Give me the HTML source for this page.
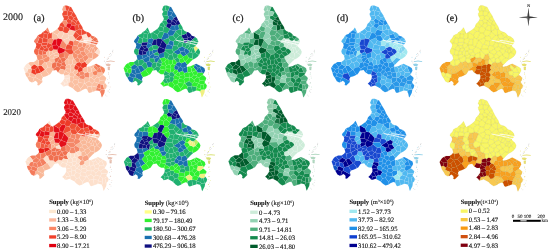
<!DOCTYPE html>
<html><head><meta charset="utf-8"><style>
html,body{margin:0;padding:0;background:#fff;}
body{width:550px;height:252px;overflow:hidden;}
svg{display:block;}
text{font-family:"Liberation Serif","Times New Roman",serif;fill:#111;text-rendering:geometricPrecision;}
.lt{font-size:6.5px;stroke:#111;stroke-width:0.1px;}
.lv{font-size:6.7px;stroke:#111;stroke-width:0.12px;}
.sb{font-size:5px;stroke:#111;stroke-width:0.08px;}
.yr{font-size:10px;fill:#1a1a1a;stroke:#1a1a1a;stroke-width:0.12px;}
.pl{font-size:9.8px;fill:#1a1a1a;stroke:#1a1a1a;stroke-width:0.25px;}
</style></head><body>
<svg width="550" height="252" viewBox="0 0 550 252">
<defs>
<path id="ol" d="M370.7,6.5 L371.9,5.4 L374.3,5.4 L376.7,6.5 L378.5,7.1 L380.8,11.3 L383.8,16.1 L385.5,20.0 L387.4,23.3 L389.8,26.9 L390.4,29.3 L392.1,31.1 L395.7,32.3 L397.5,33.5 L399.3,35.8 L401.7,36.4 L404.0,38.2 L405.2,40.0 L405.8,42.1 L404.6,43.9 L402.9,45.7 L404.6,47.5 L406.4,49.3 L407.6,51.7 L407.0,54.0 L405.2,56.4 L402.9,58.2 L400.5,59.4 L398.1,61.5 L395.7,63.9 L393.9,65.7 L394.5,66.9 L398.1,66.3 L400.5,65.1 L403.6,63.8 L407.1,65.4 L410.1,67.1 L411.9,68.3 L412.5,70.7 L411.3,73.1 L410.1,74.9 L411.9,76.1 L413.7,77.9 L413.1,80.2 L411.9,82.0 L413.1,83.8 L414.3,85.6 L413.7,88.0 L412.4,89.3 L411.8,92.9 L410.6,95.2 L409.4,97.6 L408.8,96.4 L408.2,93.5 L407.0,91.1 L404.0,90.5 L400.5,91.7 L396.9,92.9 L395.7,92.3 L394.5,89.3 L392.7,88.7 L389.8,89.9 L387.4,91.5 L385.0,92.3 L382.6,90.8 L381.4,89.6 L379.6,87.9 L377.3,86.7 L374.9,85.5 L373.1,86.1 L370.7,86.7 L369.5,84.9 L367.7,83.7 L369.5,81.9 L371.3,79.5 L371.9,76.5 L371.3,74.2 L368.3,74.2 L365.4,72.4 L363.6,70.0 L360.0,70.6 L358.8,72.4 L357.6,74.2 L355.2,75.4 L352.9,76.5 L350.5,77.1 L349.3,78.9 L349.9,81.9 L348.1,83.7 L346.3,85.5 L344.5,84.9 L345.1,83.7 L344.5,81.9 L342.7,80.7 L341.0,81.9 L339.2,82.5 L336.8,81.3 L335.1,78.2 L333.4,75.8 L332.8,74.0 L332.2,71.7 L331.6,69.9 L331.0,68.1 L332.2,66.3 L333.4,64.5 L335.1,63.3 L337.5,62.1 L341.1,62.1 L343.5,60.4 L344.7,58.6 L343.7,55.0 L341.9,53.6 L341.3,51.2 L341.9,49.4 L343.1,47.6 L343.7,45.2 L343.1,43.5 L341.3,41.7 L341.9,39.9 L343.7,38.1 L344.9,35.7 L346.7,34.5 L348.5,33.9 L350.2,32.1 L352.0,31.0 L353.5,29.5 L354.8,27.5 L355.6,28.8 L356.5,31.0 L357.7,33.5 L360.7,31.6 L362.5,30.5 L364.9,28.7 L366.5,26.8 L367.4,24.0 L369.5,22.0 L370.7,20.2 L371.3,18.5 L370.1,16.1 L369.5,13.7 L370.7,11.9 L369.5,9.5 Z"/>
<path id="v0" d="M384.8,84.5 L382.0,85.2 L380.1,88.3 L381.4,89.6 L382.6,90.8 L385.0,92.3 L387.4,91.5 L388.4,90.9 L388.1,88.8 Z"/>
<path id="v1" d="M396.6,51.0 L398.6,47.5 L397.2,46.2 L394.6,48.9 Z"/>
<path id="v2" d="M356.8,32.8 L357.3,32.7 L356.5,31.0 L355.6,28.8 L354.8,27.5 L353.5,29.5 L353.0,30.0 Z"/>
<path id="v3" d="M354.0,45.7 L349.2,45.2 L351.6,48.7 L354.4,47.6 Z"/>
<path id="v4" d="M376.7,54.5 L372.3,50.7 L371.3,52.2 L371.6,57.5 L373.8,59.0 L374.8,58.9 Z"/>
<path id="v5" d="M380.9,51.9 L380.9,52.3 L385.4,54.7 L387.6,53.4 L388.0,51.8 L386.0,48.8 Z"/>
<path id="v6" d="M373.4,26.2 L372.6,26.3 L371.0,27.6 L370.3,31.4 L371.5,32.8 L374.9,33.2 L377.1,29.6 L376.8,28.7 Z"/>
<path id="v7" d="M372.2,83.3 L375.4,82.9 L373.2,78.9 L371.6,78.2 L371.3,79.5 L370.2,81.0 Z"/>
<path id="v8" d="M385.6,71.8 L382.6,75.0 L386.6,77.2 L387.6,75.5 L386.6,72.2 Z"/>
<path id="v9" d="M372.2,83.3 L370.8,86.7 L373.1,86.1 L374.9,85.5 L375.9,86.0 L375.7,83.0 L375.4,82.9 Z"/>
<path id="v10" d="M362.5,62.0 L361.6,58.8 L360.9,58.3 L357.3,58.0 L356.6,61.1 L359.6,63.3 Z"/>
<path id="v11" d="M394.8,38.5 L395.3,40.2 L397.7,41.6 L399.9,39.8 L399.9,39.5 L397.7,37.0 L395.3,37.6 Z"/>
<path id="v12" d="M384.3,62.8 L381.7,59.0 L381.2,58.9 L379.9,59.9 L380.1,63.8 L382.7,65.0 L383.2,64.8 Z"/>
<path id="v13" d="M367.2,31.4 L370.3,31.4 L371.0,27.6 L366.8,25.8 L366.5,26.8 L364.9,28.7 L364.8,28.7 Z"/>
<path id="v14" d="M389.0,35.3 L388.8,29.6 L386.7,29.2 L382.7,31.1 L382.7,31.7 L386.8,35.4 L389.0,35.3 Z"/>
<path id="v15" d="M401.2,67.5 L403.6,70.4 L403.8,70.4 L405.8,68.0 L401.9,64.5 L401.8,64.6 Z"/>
<path id="v16" d="M411.6,89.6 L408.6,89.8 L407.3,91.8 L408.2,93.5 L408.8,96.4 L409.4,97.6 L410.6,95.2 L411.8,92.9 L412.3,89.9 Z"/>
<path id="v17" d="M381.1,17.9 L378.6,15.4 L375.7,16.2 L375.6,18.6 L379.3,20.7 L380.8,19.1 Z"/>
<path id="v18" d="M379.3,20.7 L375.6,18.6 L373.8,20.6 L375.0,23.2 L378.2,23.2 L379.3,20.8 Z"/>
<path id="v19" d="M405.8,68.0 L407.4,67.4 L408.3,66.1 L407.1,65.4 L403.6,63.8 L401.9,64.5 Z"/>
<path id="v20" d="M380.5,35.6 L376.4,36.0 L375.9,37.8 L377.2,40.5 L380.9,41.4 L383.2,39.3 Z"/>
<path id="v21" d="M371.6,57.5 L371.3,52.2 L366.5,54.1 L366.1,56.0 L366.3,56.7 L367.3,58.2 L367.4,58.3 Z"/>
<path id="v22" d="M364.6,49.8 L364.8,51.7 L366.5,54.1 L371.3,52.2 L372.3,50.7 L372.4,49.3 L366.9,46.9 L366.5,47.0 Z"/>
<path id="v23" d="M381.5,67.9 L378.4,68.0 L377.7,69.1 L378.2,71.9 L380.4,72.3 L382.6,69.8 Z"/>
<path id="v24" d="M359.4,51.0 L360.6,53.6 L361.0,53.8 L364.8,51.7 L364.6,49.8 L360.7,49.4 Z"/>
<path id="v25" d="M398.9,86.2 L395.1,86.8 L394.2,89.2 L394.5,89.3 L395.7,92.3 L396.9,92.9 L399.8,91.9 Z"/>
<path id="v26" d="M399.7,58.7 L400.4,53.2 L398.9,52.4 L396.9,52.0 L394.1,54.7 L396.3,57.8 Z"/>
<path id="v27" d="M344.8,42.8 L348.8,43.9 L349.8,42.5 L349.8,38.5 L346.8,37.4 Z"/>
<path id="v28" d="M344.8,42.8 L346.8,37.4 L345.3,35.5 L344.9,35.7 L343.7,38.1 L341.9,39.9 L341.3,41.7 L342.9,43.3 Z"/>
<path id="v29" d="M396.3,57.8 L394.1,54.7 L394.0,54.7 L390.6,56.5 L390.2,57.7 L392.3,61.8 L392.5,61.8 Z"/>
<path id="v30" d="M385.6,71.8 L386.6,72.2 L390.1,70.9 L390.3,68.2 L388.2,66.8 L386.4,67.2 L384.8,70.1 Z"/>
<path id="v31" d="M361.2,39.4 L359.3,38.1 L355.3,39.2 L355.1,42.3 L355.3,42.7 L359.2,44.3 Z"/>
<path id="v32" d="M386.1,48.1 L384.7,46.0 L381.0,45.4 L380.2,46.0 L379.4,49.0 L380.9,51.9 L386.0,48.8 Z"/>
<path id="v33" d="M382.7,65.0 L380.1,63.8 L377.7,65.1 L378.4,68.0 L381.5,67.9 Z"/>
<path id="v34" d="M373.7,65.4 L372.1,61.8 L369.5,62.3 L368.6,63.8 L368.7,65.3 L373.1,66.3 Z"/>
<path id="v35" d="M385.6,20.1 L385.5,20.0 L383.9,16.4 L381.1,17.9 L380.8,19.1 L384.0,21.1 Z"/>
<path id="v36" d="M392.5,77.3 L391.3,79.3 L392.1,83.3 L392.1,83.3 L392.4,83.4 L396.5,81.0 L396.8,77.7 Z"/>
<path id="v37" d="M406.2,77.7 L407.1,80.4 L413.1,80.1 L413.7,77.9 L411.9,76.1 L410.2,74.9 Z"/>
<path id="v38" d="M402.5,52.4 L400.4,53.2 L399.7,58.7 L400.4,59.5 L400.5,59.4 L402.9,58.2 L405.2,56.4 L406.3,55.0 Z"/>
<path id="v39" d="M345.9,60.2 L350.4,59.3 L350.5,59.1 L349.4,55.2 L345.7,54.6 L343.9,55.6 L344.7,58.6 L344.3,59.3 Z"/>
<path id="v40" d="M343.7,74.0 L348.0,72.9 L348.1,72.8 L345.3,66.7 L342.3,69.6 Z"/>
<path id="v41" d="M398.7,68.6 L401.2,67.5 L401.8,64.6 L400.5,65.1 L398.1,66.3 L396.3,66.6 Z"/>
<path id="v42" d="M379.3,20.8 L378.2,23.2 L379.1,25.3 L382.2,25.7 L383.4,24.7 L383.2,23.6 Z"/>
<path id="v43" d="M375.5,10.7 L380.1,12.1 L381.0,11.7 L380.8,11.3 L378.5,7.1 L377.2,6.7 Z"/>
<path id="v44" d="M364.8,35.1 L359.8,32.2 L359.3,32.5 L359.3,38.1 L361.2,39.4 L364.2,39.2 L365.7,38.2 Z"/>
<path id="v45" d="M338.5,66.9 L341.7,64.2 L341.3,62.0 L341.1,62.1 L337.5,62.1 L335.4,63.2 Z"/>
<path id="v46" d="M397.7,37.0 L398.8,35.1 L397.5,33.5 L395.7,32.3 L394.5,31.9 L393.5,33.7 L395.3,37.6 Z"/>
<path id="v47" d="M406.0,83.2 L406.0,83.2 L407.1,80.4 L406.2,77.7 L404.7,77.0 L401.5,79.8 L401.6,81.7 Z"/>
<path id="v48" d="M341.4,78.1 L340.1,82.2 L341.0,81.9 L342.7,80.7 L344.5,81.9 L345.1,83.7 L344.5,84.9 L346.3,85.5 L348.1,83.7 L349.9,81.9 L349.8,81.3 L342.5,77.2 Z"/>
<path id="v49" d="M380.1,63.8 L379.9,59.9 L376.3,60.0 L376.4,64.5 L377.7,65.1 Z"/>
<path id="v50" d="M383.9,16.4 L383.8,16.1 L381.0,11.7 L380.1,12.1 L378.6,15.4 L381.1,17.9 Z"/>
<path id="v51" d="M388.2,66.8 L388.6,63.2 L386.8,61.9 L384.3,62.8 L383.2,64.8 L386.4,67.2 Z"/>
<path id="v52" d="M396.8,77.7 L396.5,81.0 L399.5,83.4 L401.6,81.7 L401.5,79.8 L398.7,77.5 L396.8,77.7 Z"/>
<path id="v53" d="M353.0,69.8 L356.5,74.7 L357.6,74.2 L358.8,72.4 L360.0,70.6 L361.0,70.4 L360.8,68.9 L358.9,67.1 L355.2,67.3 Z"/>
<path id="v54" d="M399.2,85.9 L398.9,86.2 L399.8,91.9 L400.5,91.7 L403.2,90.8 L404.0,87.5 L403.8,87.0 Z"/>
<path id="v55" d="M386.7,29.2 L385.6,25.0 L383.4,24.7 L382.2,25.7 L382.6,31.1 L382.7,31.1 Z"/>
<path id="v56" d="M367.7,69.1 L372.3,70.1 L373.2,68.7 L373.1,66.3 L368.7,65.3 L367.3,67.3 Z"/>
<path id="v57" d="M339.0,68.9 L342.3,69.6 L345.3,66.7 L345.4,66.4 L341.7,64.2 L338.5,66.9 L338.5,68.3 Z"/>
<path id="v58" d="M401.7,41.4 L405.3,40.2 L405.2,40.0 L404.0,38.2 L402.5,37.0 L399.9,39.5 L399.9,39.8 Z"/>
<path id="v59" d="M361.8,55.2 L366.1,56.0 L366.5,54.1 L364.8,51.7 L361.0,53.8 Z"/>
<path id="v60" d="M357.2,51.0 L359.4,51.0 L360.7,49.4 L359.6,45.5 L355.6,48.5 L356.0,50.2 Z"/>
<path id="v61" d="M338.5,72.8 L337.0,73.7 L336.6,76.2 L341.4,78.1 L342.5,77.2 L343.0,74.9 Z"/>
<path id="v62" d="M382.7,31.1 L382.6,31.1 L377.1,29.6 L374.9,33.2 L376.4,36.0 L380.5,35.6 L382.7,31.7 Z"/>
<path id="v63" d="M334.6,77.5 L335.1,78.2 L336.8,81.3 L339.2,82.5 L340.1,82.2 L341.4,78.1 L336.6,76.2 Z"/>
<path id="v64" d="M384.0,21.1 L380.8,19.1 L379.3,20.7 L379.3,20.8 L383.2,23.6 Z"/>
<path id="v65" d="M338.5,72.8 L343.0,74.9 L343.7,74.0 L342.3,69.6 L339.0,68.9 Z"/>
<path id="v66" d="M399.5,83.4 L396.5,81.0 L392.4,83.4 L395.1,86.8 L398.9,86.2 L399.2,85.9 Z"/>
<path id="v67" d="M389.9,37.9 L389.0,35.3 L386.8,35.4 L383.2,39.3 L386.4,41.6 Z"/>
<path id="v68" d="M350.5,59.1 L355.7,56.2 L353.7,54.2 L349.6,55.0 L349.4,55.2 Z"/>
<path id="v69" d="M395.1,86.8 L392.4,83.4 L392.1,83.3 L388.1,88.8 L388.4,90.9 L389.8,89.9 L392.7,88.7 L394.2,89.2 Z"/>
<path id="v70" d="M407.1,80.4 L406.0,83.2 L408.3,84.6 L410.5,84.7 L412.7,83.2 L411.9,82.0 L413.1,80.2 L413.1,80.1 Z"/>
<path id="v71" d="M397.9,43.7 L397.7,41.6 L395.3,40.2 L393.3,43.2 L394.1,44.4 L396.9,45.1 Z"/>
<path id="v72" d="M383.4,24.7 L385.6,25.0 L387.7,23.7 L387.4,23.3 L385.6,20.1 L384.0,21.1 L383.2,23.6 Z"/>
<path id="v73" d="M396.3,72.7 L395.1,72.1 L392.0,73.1 L391.5,74.8 L392.5,77.3 L396.8,77.7 L396.8,77.7 Z"/>
<path id="v74" d="M392.2,48.1 L394.1,44.4 L393.3,43.2 L391.3,42.7 L389.8,43.5 L389.7,46.5 Z"/>
<path id="v75" d="M364.1,45.1 L364.2,39.2 L361.2,39.4 L359.2,44.3 L359.7,45.2 Z"/>
<path id="v76" d="M370.1,40.2 L374.1,44.7 L375.4,44.2 L377.2,40.5 L375.9,37.8 Z"/>
<path id="v77" d="M372.5,70.8 L376.7,73.3 L378.2,71.9 L377.7,69.1 L373.2,68.7 L372.3,70.1 Z"/>
<path id="v78" d="M342.5,77.2 L349.8,81.3 L349.3,78.9 L350.3,77.4 L348.0,72.9 L343.7,74.0 L343.0,74.9 Z"/>
<path id="v79" d="M386.7,78.5 L385.7,80.2 L385.9,82.5 L392.1,83.3 L391.3,79.3 Z"/>
<path id="v80" d="M375.4,44.2 L374.1,44.7 L372.5,49.2 L379.4,49.0 L380.2,46.0 Z"/>
<path id="v81" d="M373.4,10.6 L372.3,5.4 L371.9,5.4 L370.7,6.5 L369.5,9.5 L370.4,11.3 Z"/>
<path id="v82" d="M354.7,38.5 L355.3,39.2 L359.3,38.1 L359.3,32.5 L357.7,33.5 L357.3,32.7 L356.8,32.8 L355.3,34.0 Z"/>
<path id="v83" d="M388.0,51.8 L391.4,50.9 L392.4,48.6 L392.2,48.1 L389.7,46.5 L386.1,48.1 L386.0,48.8 Z"/>
<path id="v84" d="M408.6,89.8 L408.0,88.9 L404.0,87.5 L403.2,90.8 L404.0,90.5 L407.0,91.1 L407.3,91.8 Z"/>
<path id="v85" d="M349.8,38.5 L349.8,42.5 L355.1,42.3 L355.3,39.2 L354.7,38.5 L351.2,37.8 Z"/>
<path id="v86" d="M402.6,52.3 L405.6,48.5 L404.6,47.5 L403.1,46.0 L402.8,45.9 L400.9,47.6 Z"/>
<path id="v87" d="M348.8,65.5 L346.5,65.6 L345.4,66.4 L345.3,66.7 L348.1,72.8 L352.4,69.8 Z"/>
<path id="v88" d="M353.7,54.2 L353.6,51.9 L350.9,50.7 L350.3,51.0 L349.6,55.0 Z"/>
<path id="v89" d="M356.3,56.4 L357.2,51.0 L356.0,50.2 L353.6,51.9 L353.7,54.2 L355.7,56.2 Z"/>
<path id="v90" d="M385.0,57.5 L385.4,54.7 L380.9,52.3 L379.6,53.9 L381.2,58.9 L381.7,59.0 Z"/>
<path id="v91" d="M349.6,55.0 L350.3,51.0 L346.4,49.5 L345.7,54.6 L349.4,55.2 Z"/>
<path id="v92" d="M350.3,51.0 L350.9,50.7 L351.6,48.7 L349.2,45.2 L349.1,45.2 L346.3,49.4 L346.4,49.5 Z"/>
<path id="v93" d="M409.6,72.5 L405.0,72.4 L404.0,75.6 L404.7,77.0 L406.2,77.7 L410.2,74.9 L410.1,74.9 L411.1,73.4 Z"/>
<path id="v94" d="M398.7,77.5 L400.9,75.0 L399.7,72.1 L398.9,71.8 L396.3,72.7 L396.8,77.7 Z"/>
<path id="v95" d="M392.1,83.3 L392.1,83.3 L385.9,82.5 L384.8,84.5 L388.1,88.8 Z"/>
<path id="v96" d="M390.1,70.9 L386.6,72.2 L387.6,75.5 L391.5,74.8 L392.0,73.1 Z"/>
<path id="v97" d="M346.3,49.4 L342.7,48.2 L341.9,49.4 L341.3,51.2 L341.9,53.6 L343.7,55.0 L343.9,55.6 L345.7,54.6 L346.4,49.5 Z"/>
<path id="v98" d="M379.8,82.1 L381.5,79.1 L380.8,77.1 L377.6,76.8 L377.0,77.8 L377.6,81.9 Z"/>
<path id="v99" d="M392.5,61.8 L392.3,61.8 L388.6,63.2 L388.2,66.8 L390.3,68.2 L394.3,66.5 L393.9,65.7 L394.8,64.8 Z"/>
<path id="v100" d="M367.7,69.1 L367.3,67.3 L364.2,66.4 L360.8,68.9 L361.0,70.4 L363.6,70.0 L365.4,72.4 L365.7,72.6 Z"/>
<path id="v101" d="M402.5,37.0 L401.7,36.4 L399.3,35.8 L398.8,35.1 L397.7,37.0 L399.9,39.5 Z"/>
<path id="v102" d="M388.8,29.6 L390.3,28.7 L389.8,26.9 L387.7,23.7 L385.6,25.0 L386.7,29.2 Z"/>
<path id="v103" d="M377.6,76.8 L376.5,74.6 L371.7,75.8 L371.9,76.5 L371.6,78.2 L373.2,78.9 L377.0,77.8 Z"/>
<path id="v104" d="M335.3,69.3 L334.5,72.0 L337.0,73.7 L338.5,72.8 L339.0,68.9 L338.5,68.3 Z"/>
<path id="v105" d="M366.9,46.9 L372.4,49.3 L372.5,49.2 L374.1,44.7 L370.1,40.2 L369.8,40.1 Z"/>
<path id="v106" d="M387.6,53.4 L390.6,56.5 L394.0,54.7 L391.4,50.9 L388.0,51.8 Z"/>
<path id="v107" d="M379.9,59.9 L381.2,58.9 L379.6,53.9 L376.7,54.5 L374.8,58.9 L376.3,60.0 Z"/>
<path id="v108" d="M368.6,63.8 L369.5,62.3 L367.4,58.3 L367.3,58.2 L364.2,62.2 Z"/>
<path id="v109" d="M378.6,15.4 L380.1,12.1 L375.5,10.7 L374.7,11.1 L374.7,15.4 L375.7,16.2 Z"/>
<path id="v110" d="M376.8,28.7 L377.1,29.6 L382.6,31.1 L382.2,25.7 L379.1,25.3 Z"/>
<path id="v111" d="M346.3,49.4 L349.1,45.2 L348.8,43.9 L344.8,42.8 L342.9,43.3 L343.1,43.5 L343.7,45.2 L343.1,47.6 L342.7,48.2 Z"/>
<path id="v112" d="M394.6,66.9 L394.5,66.9 L394.3,66.5 L390.3,68.2 L390.1,70.9 L392.0,73.1 L395.1,72.1 Z"/>
<path id="v113" d="M375.7,83.0 L377.6,81.9 L377.0,77.8 L373.2,78.9 L375.4,82.9 Z"/>
<path id="v114" d="M371.6,57.5 L367.4,58.3 L369.5,62.3 L372.1,61.8 L373.8,59.0 Z"/>
<path id="v115" d="M399.7,72.1 L403.6,70.4 L401.2,67.5 L398.7,68.6 L398.9,71.8 Z"/>
<path id="v116" d="M383.2,39.3 L383.2,39.3 L380.9,41.4 L381.0,45.4 L384.7,46.0 L386.6,42.2 L386.4,41.6 Z"/>
<path id="v117" d="M377.2,40.5 L375.4,44.2 L380.2,46.0 L381.0,45.4 L380.9,41.4 Z"/>
<path id="v118" d="M393.3,43.2 L395.3,40.2 L394.8,38.5 L391.0,38.7 L391.3,42.7 Z"/>
<path id="v119" d="M369.8,40.1 L370.1,40.2 L375.9,37.8 L376.4,36.0 L374.9,33.2 L371.5,32.8 L368.6,38.9 Z"/>
<path id="v120" d="M401.3,43.9 L401.7,41.4 L399.9,39.8 L397.7,41.6 L397.9,43.7 Z"/>
<path id="v121" d="M401.5,79.8 L404.7,77.0 L404.0,75.6 L400.9,75.0 L398.7,77.5 Z"/>
<path id="v122" d="M372.5,70.8 L372.3,70.1 L367.7,69.1 L365.7,72.6 L368.3,74.2 L371.0,74.2 Z"/>
<path id="v123" d="M376.4,64.5 L373.7,65.4 L373.1,66.3 L373.2,68.7 L377.7,69.1 L378.4,68.0 L377.7,65.1 Z"/>
<path id="v124" d="M392.3,61.8 L390.2,57.7 L386.8,58.9 L386.8,61.9 L388.6,63.2 Z"/>
<path id="v125" d="M355.3,34.0 L356.8,32.8 L353.0,30.0 L352.0,31.0 L350.2,32.1 L351.4,33.6 Z"/>
<path id="v126" d="M359.6,45.5 L360.7,49.4 L364.6,49.8 L366.5,47.0 L364.1,45.1 L359.7,45.2 Z"/>
<path id="v127" d="M367.3,58.2 L366.3,56.7 L361.6,58.8 L362.5,62.0 L363.6,62.4 L364.2,62.2 Z"/>
<path id="v128" d="M408.3,84.6 L408.0,88.9 L408.6,89.8 L411.6,89.6 L410.5,84.7 Z"/>
<path id="v129" d="M402.6,52.3 L402.5,52.4 L406.3,55.0 L407.0,54.0 L407.6,51.7 L406.4,49.3 L405.6,48.5 Z"/>
<path id="v130" d="M373.8,20.6 L370.7,20.3 L369.6,21.8 L372.6,26.3 L373.4,26.2 L375.0,23.2 Z"/>
<path id="v131" d="M398.9,52.4 L400.4,53.2 L402.5,52.4 L402.6,52.3 L400.9,47.6 L399.9,47.8 Z"/>
<path id="v132" d="M394.6,48.9 L397.2,46.2 L396.9,45.1 L394.1,44.4 L392.2,48.1 L392.4,48.6 Z"/>
<path id="v133" d="M361.6,58.8 L366.3,56.7 L366.1,56.0 L361.8,55.2 L360.9,58.3 Z"/>
<path id="v134" d="M346.8,37.4 L349.8,38.5 L351.2,37.8 L351.4,33.6 L350.2,32.1 L350.2,32.1 L348.5,33.9 L346.7,34.5 L345.3,35.5 Z"/>
<path id="v135" d="M387.6,75.5 L386.6,77.2 L386.7,78.5 L391.3,79.3 L392.5,77.3 L391.5,74.8 Z"/>
<path id="v136" d="M334.5,72.0 L332.5,72.8 L332.8,74.0 L333.4,75.8 L334.6,77.5 L336.6,76.2 L337.0,73.7 Z"/>
<path id="v137" d="M398.6,47.5 L399.9,47.8 L400.9,47.6 L402.8,45.9 L401.3,43.9 L397.9,43.7 L396.9,45.1 L397.2,46.2 Z"/>
<path id="v138" d="M335.3,69.3 L338.5,68.3 L338.5,66.9 L335.4,63.2 L335.1,63.3 L333.4,64.5 L332.2,66.3 L331.8,66.9 Z"/>
<path id="v139" d="M353.6,62.6 L351.8,62.1 L348.8,65.5 L352.4,69.8 L353.0,69.8 L355.2,67.3 Z"/>
<path id="v140" d="M360.8,68.9 L364.2,66.4 L363.6,62.4 L362.5,62.0 L359.6,63.3 L358.9,67.1 Z"/>
<path id="v141" d="M355.6,48.5 L354.4,47.6 L351.6,48.7 L350.9,50.7 L353.6,51.9 L356.0,50.2 Z"/>
<path id="v142" d="M376.3,60.0 L374.8,58.9 L373.8,59.0 L372.1,61.8 L373.7,65.4 L376.4,64.5 Z"/>
<path id="v143" d="M351.2,37.8 L354.7,38.5 L355.3,34.0 L351.4,33.6 Z"/>
<path id="v144" d="M394.0,54.7 L394.1,54.7 L396.9,52.0 L396.6,51.0 L394.6,48.9 L392.4,48.6 L391.4,50.9 Z"/>
<path id="v145" d="M407.4,67.4 L409.6,72.5 L411.1,73.4 L411.3,73.1 L412.5,70.7 L411.9,68.3 L410.1,67.1 L408.3,66.1 Z"/>
<path id="v146" d="M382.1,75.1 L380.8,77.1 L381.5,79.1 L385.7,80.2 L386.7,78.5 L386.6,77.2 L382.6,75.0 Z"/>
<path id="v147" d="M391.0,38.7 L394.8,38.5 L395.3,37.6 L393.5,33.7 L389.0,35.3 L389.0,35.3 L389.9,37.9 Z"/>
<path id="v148" d="M355.3,42.7 L355.1,42.3 L349.8,42.5 L348.8,43.9 L349.1,45.2 L349.2,45.2 L354.0,45.7 Z"/>
<path id="v149" d="M373.8,20.6 L375.6,18.6 L375.7,16.2 L374.7,15.4 L370.0,15.9 L370.1,16.1 L371.3,18.5 L370.7,20.2 L370.7,20.3 Z"/>
<path id="v150" d="M368.7,65.3 L368.6,63.8 L364.2,62.2 L363.6,62.4 L364.2,66.4 L367.3,67.3 Z"/>
<path id="v151" d="M346.5,65.6 L348.8,65.5 L351.8,62.1 L350.4,59.3 L345.9,60.2 Z"/>
<path id="v152" d="M366.5,47.0 L366.9,46.9 L369.8,40.1 L368.6,38.9 L365.7,38.2 L364.2,39.2 L364.1,45.1 Z"/>
<path id="v153" d="M404.0,87.5 L408.0,88.9 L408.3,84.6 L406.0,83.2 L406.0,83.2 L403.8,87.0 Z"/>
<path id="v154" d="M386.8,58.9 L385.0,57.5 L381.7,59.0 L384.3,62.8 L386.8,61.9 Z"/>
<path id="v155" d="M411.6,89.6 L412.3,89.9 L412.4,89.3 L413.7,88.0 L414.3,85.6 L413.1,83.8 L412.7,83.2 L410.5,84.7 Z"/>
<path id="v156" d="M386.4,67.2 L383.2,64.8 L382.7,65.0 L381.5,67.9 L382.6,69.8 L384.8,70.1 Z"/>
<path id="v157" d="M386.8,58.9 L390.2,57.7 L390.6,56.5 L387.6,53.4 L385.4,54.7 L385.0,57.5 Z"/>
<path id="v158" d="M356.3,56.4 L356.5,56.5 L360.6,53.6 L359.4,51.0 L357.2,51.0 Z"/>
<path id="v159" d="M334.5,72.0 L335.3,69.3 L331.8,66.9 L331.0,68.1 L331.6,69.9 L332.2,71.7 L332.5,72.8 Z"/>
<path id="v160" d="M389.7,46.5 L389.8,43.5 L386.6,42.2 L384.7,46.0 L386.1,48.1 Z"/>
<path id="v161" d="M400.9,75.0 L404.0,75.6 L405.0,72.4 L403.8,70.4 L403.6,70.4 L399.7,72.1 Z"/>
<path id="v162" d="M359.2,44.3 L355.3,42.7 L354.0,45.7 L354.4,47.6 L355.6,48.5 L359.6,45.5 L359.7,45.2 Z"/>
<path id="v163" d="M405.0,72.4 L409.6,72.5 L407.4,67.4 L405.8,68.0 L403.8,70.4 Z"/>
<path id="v164" d="M403.1,46.0 L402.9,45.7 L404.6,43.9 L405.8,42.1 L405.3,40.2 L401.7,41.4 L401.3,43.9 L402.8,45.9 Z"/>
<path id="v165" d="M395.1,72.1 L396.3,72.7 L398.9,71.8 L398.7,68.6 L396.3,66.6 L394.6,66.9 Z"/>
<path id="v166" d="M373.4,10.6 L374.7,11.1 L375.5,10.7 L377.2,6.7 L376.7,6.5 L374.3,5.4 L372.3,5.4 Z"/>
<path id="v167" d="M375.9,86.0 L377.3,86.7 L379.6,87.9 L380.1,88.3 L382.0,85.2 L379.8,82.1 L377.6,81.9 L375.7,83.0 Z"/>
<path id="v168" d="M399.7,58.7 L396.3,57.8 L392.5,61.8 L394.8,64.8 L395.7,63.9 L398.1,61.5 L400.4,59.5 Z"/>
<path id="v169" d="M358.9,67.1 L359.6,63.3 L356.6,61.1 L353.6,62.6 L355.2,67.3 Z"/>
<path id="v170" d="M348.1,72.8 L348.0,72.9 L350.3,77.4 L350.5,77.1 L352.9,76.5 L355.2,75.4 L356.5,74.7 L353.0,69.8 L352.4,69.8 Z"/>
<path id="v171" d="M382.6,69.8 L380.4,72.3 L382.1,75.1 L382.6,75.0 L385.6,71.8 L384.8,70.1 Z"/>
<path id="v172" d="M386.6,42.2 L389.8,43.5 L391.3,42.7 L391.0,38.7 L389.9,37.9 L386.4,41.6 Z"/>
<path id="v173" d="M394.5,31.9 L392.1,31.1 L390.4,29.3 L390.3,28.7 L388.8,29.6 L389.0,35.3 L393.5,33.7 Z"/>
<path id="v174" d="M372.2,83.3 L370.2,81.0 L369.5,81.9 L367.7,83.7 L369.5,84.9 L370.7,86.7 L370.8,86.7 Z"/>
<path id="v175" d="M368.6,38.9 L371.5,32.8 L370.3,31.4 L367.2,31.4 L364.8,35.1 L365.7,38.2 Z"/>
<path id="v176" d="M369.6,21.8 L369.5,22.0 L367.4,24.0 L366.8,25.8 L371.0,27.6 L372.6,26.3 Z"/>
<path id="v177" d="M350.5,59.1 L350.4,59.3 L351.8,62.1 L353.6,62.6 L356.6,61.1 L357.3,58.0 L356.5,56.5 L356.3,56.4 L355.7,56.2 Z"/>
<path id="v178" d="M374.7,15.4 L374.7,11.1 L373.4,10.6 L370.4,11.3 L370.7,11.9 L369.5,13.7 L370.0,15.9 Z"/>
<path id="v179" d="M406.0,83.2 L401.6,81.7 L399.5,83.4 L399.2,85.9 L403.8,87.0 Z"/>
<path id="v180" d="M398.9,52.4 L399.9,47.8 L398.6,47.5 L396.6,51.0 L396.9,52.0 Z"/>
<path id="v181" d="M386.8,35.4 L382.7,31.7 L380.5,35.6 L383.2,39.3 L383.2,39.3 Z"/>
<path id="v182" d="M382.1,75.1 L380.4,72.3 L378.2,71.9 L376.7,73.3 L376.5,74.6 L377.6,76.8 L380.8,77.1 Z"/>
<path id="v183" d="M379.8,82.1 L382.0,85.2 L384.8,84.5 L385.9,82.5 L385.7,80.2 L381.5,79.1 Z"/>
<path id="v184" d="M378.2,23.2 L375.0,23.2 L373.4,26.2 L376.8,28.7 L379.1,25.3 Z"/>
<path id="v185" d="M379.4,49.0 L372.5,49.2 L372.4,49.3 L372.3,50.7 L376.7,54.5 L379.6,53.9 L380.9,52.3 L380.9,51.9 Z"/>
<path id="v186" d="M341.7,64.2 L345.4,66.4 L346.5,65.6 L345.9,60.2 L344.3,59.3 L343.5,60.4 L341.3,62.0 Z"/>
<path id="v187" d="M371.0,74.2 L371.3,74.2 L371.7,75.8 L376.5,74.6 L376.7,73.3 L372.5,70.8 Z"/>
<path id="v188" d="M364.8,35.1 L367.2,31.4 L364.8,28.7 L362.5,30.5 L360.7,31.6 L359.8,32.2 Z"/>
<path id="v189" d="M357.3,58.0 L360.9,58.3 L361.8,55.2 L361.0,53.8 L360.6,53.6 L356.5,56.5 Z"/>
<path id="vb" fill="none" stroke-width="0.3" d="M384.8,84.5 L382.0,85.2 L380.1,88.3 L381.4,89.6 L382.6,90.8 L385.0,92.3 L387.4,91.5 L388.4,90.9 L388.1,88.8 Z M396.6,51.0 L398.6,47.5 L397.2,46.2 L394.6,48.9 Z M356.8,32.8 L357.3,32.7 L356.5,31.0 L355.6,28.8 L354.8,27.5 L353.5,29.5 L353.0,30.0 Z M354.0,45.7 L349.2,45.2 L351.6,48.7 L354.4,47.6 Z M376.7,54.5 L372.3,50.7 L371.3,52.2 L371.6,57.5 L373.8,59.0 L374.8,58.9 Z M380.9,51.9 L380.9,52.3 L385.4,54.7 L387.6,53.4 L388.0,51.8 L386.0,48.8 Z M373.4,26.2 L372.6,26.3 L371.0,27.6 L370.3,31.4 L371.5,32.8 L374.9,33.2 L377.1,29.6 L376.8,28.7 Z M372.2,83.3 L375.4,82.9 L373.2,78.9 L371.6,78.2 L371.3,79.5 L370.2,81.0 Z M385.6,71.8 L382.6,75.0 L386.6,77.2 L387.6,75.5 L386.6,72.2 Z M372.2,83.3 L370.8,86.7 L373.1,86.1 L374.9,85.5 L375.9,86.0 L375.7,83.0 L375.4,82.9 Z M362.5,62.0 L361.6,58.8 L360.9,58.3 L357.3,58.0 L356.6,61.1 L359.6,63.3 Z M394.8,38.5 L395.3,40.2 L397.7,41.6 L399.9,39.8 L399.9,39.5 L397.7,37.0 L395.3,37.6 Z M384.3,62.8 L381.7,59.0 L381.2,58.9 L379.9,59.9 L380.1,63.8 L382.7,65.0 L383.2,64.8 Z M367.2,31.4 L370.3,31.4 L371.0,27.6 L366.8,25.8 L366.5,26.8 L364.9,28.7 L364.8,28.7 Z M389.0,35.3 L388.8,29.6 L386.7,29.2 L382.7,31.1 L382.7,31.7 L386.8,35.4 L389.0,35.3 Z M401.2,67.5 L403.6,70.4 L403.8,70.4 L405.8,68.0 L401.9,64.5 L401.8,64.6 Z M411.6,89.6 L408.6,89.8 L407.3,91.8 L408.2,93.5 L408.8,96.4 L409.4,97.6 L410.6,95.2 L411.8,92.9 L412.3,89.9 Z M381.1,17.9 L378.6,15.4 L375.7,16.2 L375.6,18.6 L379.3,20.7 L380.8,19.1 Z M379.3,20.7 L375.6,18.6 L373.8,20.6 L375.0,23.2 L378.2,23.2 L379.3,20.8 Z M405.8,68.0 L407.4,67.4 L408.3,66.1 L407.1,65.4 L403.6,63.8 L401.9,64.5 Z M380.5,35.6 L376.4,36.0 L375.9,37.8 L377.2,40.5 L380.9,41.4 L383.2,39.3 Z M371.6,57.5 L371.3,52.2 L366.5,54.1 L366.1,56.0 L366.3,56.7 L367.3,58.2 L367.4,58.3 Z M364.6,49.8 L364.8,51.7 L366.5,54.1 L371.3,52.2 L372.3,50.7 L372.4,49.3 L366.9,46.9 L366.5,47.0 Z M381.5,67.9 L378.4,68.0 L377.7,69.1 L378.2,71.9 L380.4,72.3 L382.6,69.8 Z M359.4,51.0 L360.6,53.6 L361.0,53.8 L364.8,51.7 L364.6,49.8 L360.7,49.4 Z M398.9,86.2 L395.1,86.8 L394.2,89.2 L394.5,89.3 L395.7,92.3 L396.9,92.9 L399.8,91.9 Z M399.7,58.7 L400.4,53.2 L398.9,52.4 L396.9,52.0 L394.1,54.7 L396.3,57.8 Z M344.8,42.8 L348.8,43.9 L349.8,42.5 L349.8,38.5 L346.8,37.4 Z M344.8,42.8 L346.8,37.4 L345.3,35.5 L344.9,35.7 L343.7,38.1 L341.9,39.9 L341.3,41.7 L342.9,43.3 Z M396.3,57.8 L394.1,54.7 L394.0,54.7 L390.6,56.5 L390.2,57.7 L392.3,61.8 L392.5,61.8 Z M385.6,71.8 L386.6,72.2 L390.1,70.9 L390.3,68.2 L388.2,66.8 L386.4,67.2 L384.8,70.1 Z M361.2,39.4 L359.3,38.1 L355.3,39.2 L355.1,42.3 L355.3,42.7 L359.2,44.3 Z M386.1,48.1 L384.7,46.0 L381.0,45.4 L380.2,46.0 L379.4,49.0 L380.9,51.9 L386.0,48.8 Z M382.7,65.0 L380.1,63.8 L377.7,65.1 L378.4,68.0 L381.5,67.9 Z M373.7,65.4 L372.1,61.8 L369.5,62.3 L368.6,63.8 L368.7,65.3 L373.1,66.3 Z M385.6,20.1 L385.5,20.0 L383.9,16.4 L381.1,17.9 L380.8,19.1 L384.0,21.1 Z M392.5,77.3 L391.3,79.3 L392.1,83.3 L392.1,83.3 L392.4,83.4 L396.5,81.0 L396.8,77.7 Z M406.2,77.7 L407.1,80.4 L413.1,80.1 L413.7,77.9 L411.9,76.1 L410.2,74.9 Z M402.5,52.4 L400.4,53.2 L399.7,58.7 L400.4,59.5 L400.5,59.4 L402.9,58.2 L405.2,56.4 L406.3,55.0 Z M345.9,60.2 L350.4,59.3 L350.5,59.1 L349.4,55.2 L345.7,54.6 L343.9,55.6 L344.7,58.6 L344.3,59.3 Z M343.7,74.0 L348.0,72.9 L348.1,72.8 L345.3,66.7 L342.3,69.6 Z M398.7,68.6 L401.2,67.5 L401.8,64.6 L400.5,65.1 L398.1,66.3 L396.3,66.6 Z M379.3,20.8 L378.2,23.2 L379.1,25.3 L382.2,25.7 L383.4,24.7 L383.2,23.6 Z M375.5,10.7 L380.1,12.1 L381.0,11.7 L380.8,11.3 L378.5,7.1 L377.2,6.7 Z M364.8,35.1 L359.8,32.2 L359.3,32.5 L359.3,38.1 L361.2,39.4 L364.2,39.2 L365.7,38.2 Z M338.5,66.9 L341.7,64.2 L341.3,62.0 L341.1,62.1 L337.5,62.1 L335.4,63.2 Z M397.7,37.0 L398.8,35.1 L397.5,33.5 L395.7,32.3 L394.5,31.9 L393.5,33.7 L395.3,37.6 Z M406.0,83.2 L406.0,83.2 L407.1,80.4 L406.2,77.7 L404.7,77.0 L401.5,79.8 L401.6,81.7 Z M341.4,78.1 L340.1,82.2 L341.0,81.9 L342.7,80.7 L344.5,81.9 L345.1,83.7 L344.5,84.9 L346.3,85.5 L348.1,83.7 L349.9,81.9 L349.8,81.3 L342.5,77.2 Z M380.1,63.8 L379.9,59.9 L376.3,60.0 L376.4,64.5 L377.7,65.1 Z M383.9,16.4 L383.8,16.1 L381.0,11.7 L380.1,12.1 L378.6,15.4 L381.1,17.9 Z M388.2,66.8 L388.6,63.2 L386.8,61.9 L384.3,62.8 L383.2,64.8 L386.4,67.2 Z M396.8,77.7 L396.5,81.0 L399.5,83.4 L401.6,81.7 L401.5,79.8 L398.7,77.5 L396.8,77.7 Z M353.0,69.8 L356.5,74.7 L357.6,74.2 L358.8,72.4 L360.0,70.6 L361.0,70.4 L360.8,68.9 L358.9,67.1 L355.2,67.3 Z M399.2,85.9 L398.9,86.2 L399.8,91.9 L400.5,91.7 L403.2,90.8 L404.0,87.5 L403.8,87.0 Z M386.7,29.2 L385.6,25.0 L383.4,24.7 L382.2,25.7 L382.6,31.1 L382.7,31.1 Z M367.7,69.1 L372.3,70.1 L373.2,68.7 L373.1,66.3 L368.7,65.3 L367.3,67.3 Z M339.0,68.9 L342.3,69.6 L345.3,66.7 L345.4,66.4 L341.7,64.2 L338.5,66.9 L338.5,68.3 Z M401.7,41.4 L405.3,40.2 L405.2,40.0 L404.0,38.2 L402.5,37.0 L399.9,39.5 L399.9,39.8 Z M361.8,55.2 L366.1,56.0 L366.5,54.1 L364.8,51.7 L361.0,53.8 Z M357.2,51.0 L359.4,51.0 L360.7,49.4 L359.6,45.5 L355.6,48.5 L356.0,50.2 Z M338.5,72.8 L337.0,73.7 L336.6,76.2 L341.4,78.1 L342.5,77.2 L343.0,74.9 Z M382.7,31.1 L382.6,31.1 L377.1,29.6 L374.9,33.2 L376.4,36.0 L380.5,35.6 L382.7,31.7 Z M334.6,77.5 L335.1,78.2 L336.8,81.3 L339.2,82.5 L340.1,82.2 L341.4,78.1 L336.6,76.2 Z M384.0,21.1 L380.8,19.1 L379.3,20.7 L379.3,20.8 L383.2,23.6 Z M338.5,72.8 L343.0,74.9 L343.7,74.0 L342.3,69.6 L339.0,68.9 Z M399.5,83.4 L396.5,81.0 L392.4,83.4 L395.1,86.8 L398.9,86.2 L399.2,85.9 Z M389.9,37.9 L389.0,35.3 L386.8,35.4 L383.2,39.3 L386.4,41.6 Z M350.5,59.1 L355.7,56.2 L353.7,54.2 L349.6,55.0 L349.4,55.2 Z M395.1,86.8 L392.4,83.4 L392.1,83.3 L388.1,88.8 L388.4,90.9 L389.8,89.9 L392.7,88.7 L394.2,89.2 Z M407.1,80.4 L406.0,83.2 L408.3,84.6 L410.5,84.7 L412.7,83.2 L411.9,82.0 L413.1,80.2 L413.1,80.1 Z M397.9,43.7 L397.7,41.6 L395.3,40.2 L393.3,43.2 L394.1,44.4 L396.9,45.1 Z M383.4,24.7 L385.6,25.0 L387.7,23.7 L387.4,23.3 L385.6,20.1 L384.0,21.1 L383.2,23.6 Z M396.3,72.7 L395.1,72.1 L392.0,73.1 L391.5,74.8 L392.5,77.3 L396.8,77.7 L396.8,77.7 Z M392.2,48.1 L394.1,44.4 L393.3,43.2 L391.3,42.7 L389.8,43.5 L389.7,46.5 Z M364.1,45.1 L364.2,39.2 L361.2,39.4 L359.2,44.3 L359.7,45.2 Z M370.1,40.2 L374.1,44.7 L375.4,44.2 L377.2,40.5 L375.9,37.8 Z M372.5,70.8 L376.7,73.3 L378.2,71.9 L377.7,69.1 L373.2,68.7 L372.3,70.1 Z M342.5,77.2 L349.8,81.3 L349.3,78.9 L350.3,77.4 L348.0,72.9 L343.7,74.0 L343.0,74.9 Z M386.7,78.5 L385.7,80.2 L385.9,82.5 L392.1,83.3 L391.3,79.3 Z M375.4,44.2 L374.1,44.7 L372.5,49.2 L379.4,49.0 L380.2,46.0 Z M373.4,10.6 L372.3,5.4 L371.9,5.4 L370.7,6.5 L369.5,9.5 L370.4,11.3 Z M354.7,38.5 L355.3,39.2 L359.3,38.1 L359.3,32.5 L357.7,33.5 L357.3,32.7 L356.8,32.8 L355.3,34.0 Z M388.0,51.8 L391.4,50.9 L392.4,48.6 L392.2,48.1 L389.7,46.5 L386.1,48.1 L386.0,48.8 Z M408.6,89.8 L408.0,88.9 L404.0,87.5 L403.2,90.8 L404.0,90.5 L407.0,91.1 L407.3,91.8 Z M349.8,38.5 L349.8,42.5 L355.1,42.3 L355.3,39.2 L354.7,38.5 L351.2,37.8 Z M402.6,52.3 L405.6,48.5 L404.6,47.5 L403.1,46.0 L402.8,45.9 L400.9,47.6 Z M348.8,65.5 L346.5,65.6 L345.4,66.4 L345.3,66.7 L348.1,72.8 L352.4,69.8 Z M353.7,54.2 L353.6,51.9 L350.9,50.7 L350.3,51.0 L349.6,55.0 Z M356.3,56.4 L357.2,51.0 L356.0,50.2 L353.6,51.9 L353.7,54.2 L355.7,56.2 Z M385.0,57.5 L385.4,54.7 L380.9,52.3 L379.6,53.9 L381.2,58.9 L381.7,59.0 Z M349.6,55.0 L350.3,51.0 L346.4,49.5 L345.7,54.6 L349.4,55.2 Z M350.3,51.0 L350.9,50.7 L351.6,48.7 L349.2,45.2 L349.1,45.2 L346.3,49.4 L346.4,49.5 Z M409.6,72.5 L405.0,72.4 L404.0,75.6 L404.7,77.0 L406.2,77.7 L410.2,74.9 L410.1,74.9 L411.1,73.4 Z M398.7,77.5 L400.9,75.0 L399.7,72.1 L398.9,71.8 L396.3,72.7 L396.8,77.7 Z M392.1,83.3 L392.1,83.3 L385.9,82.5 L384.8,84.5 L388.1,88.8 Z M390.1,70.9 L386.6,72.2 L387.6,75.5 L391.5,74.8 L392.0,73.1 Z M346.3,49.4 L342.7,48.2 L341.9,49.4 L341.3,51.2 L341.9,53.6 L343.7,55.0 L343.9,55.6 L345.7,54.6 L346.4,49.5 Z M379.8,82.1 L381.5,79.1 L380.8,77.1 L377.6,76.8 L377.0,77.8 L377.6,81.9 Z M392.5,61.8 L392.3,61.8 L388.6,63.2 L388.2,66.8 L390.3,68.2 L394.3,66.5 L393.9,65.7 L394.8,64.8 Z M367.7,69.1 L367.3,67.3 L364.2,66.4 L360.8,68.9 L361.0,70.4 L363.6,70.0 L365.4,72.4 L365.7,72.6 Z M402.5,37.0 L401.7,36.4 L399.3,35.8 L398.8,35.1 L397.7,37.0 L399.9,39.5 Z M388.8,29.6 L390.3,28.7 L389.8,26.9 L387.7,23.7 L385.6,25.0 L386.7,29.2 Z M377.6,76.8 L376.5,74.6 L371.7,75.8 L371.9,76.5 L371.6,78.2 L373.2,78.9 L377.0,77.8 Z M335.3,69.3 L334.5,72.0 L337.0,73.7 L338.5,72.8 L339.0,68.9 L338.5,68.3 Z M366.9,46.9 L372.4,49.3 L372.5,49.2 L374.1,44.7 L370.1,40.2 L369.8,40.1 Z M387.6,53.4 L390.6,56.5 L394.0,54.7 L391.4,50.9 L388.0,51.8 Z M379.9,59.9 L381.2,58.9 L379.6,53.9 L376.7,54.5 L374.8,58.9 L376.3,60.0 Z M368.6,63.8 L369.5,62.3 L367.4,58.3 L367.3,58.2 L364.2,62.2 Z M378.6,15.4 L380.1,12.1 L375.5,10.7 L374.7,11.1 L374.7,15.4 L375.7,16.2 Z M376.8,28.7 L377.1,29.6 L382.6,31.1 L382.2,25.7 L379.1,25.3 Z M346.3,49.4 L349.1,45.2 L348.8,43.9 L344.8,42.8 L342.9,43.3 L343.1,43.5 L343.7,45.2 L343.1,47.6 L342.7,48.2 Z M394.6,66.9 L394.5,66.9 L394.3,66.5 L390.3,68.2 L390.1,70.9 L392.0,73.1 L395.1,72.1 Z M375.7,83.0 L377.6,81.9 L377.0,77.8 L373.2,78.9 L375.4,82.9 Z M371.6,57.5 L367.4,58.3 L369.5,62.3 L372.1,61.8 L373.8,59.0 Z M399.7,72.1 L403.6,70.4 L401.2,67.5 L398.7,68.6 L398.9,71.8 Z M383.2,39.3 L383.2,39.3 L380.9,41.4 L381.0,45.4 L384.7,46.0 L386.6,42.2 L386.4,41.6 Z M377.2,40.5 L375.4,44.2 L380.2,46.0 L381.0,45.4 L380.9,41.4 Z M393.3,43.2 L395.3,40.2 L394.8,38.5 L391.0,38.7 L391.3,42.7 Z M369.8,40.1 L370.1,40.2 L375.9,37.8 L376.4,36.0 L374.9,33.2 L371.5,32.8 L368.6,38.9 Z M401.3,43.9 L401.7,41.4 L399.9,39.8 L397.7,41.6 L397.9,43.7 Z M401.5,79.8 L404.7,77.0 L404.0,75.6 L400.9,75.0 L398.7,77.5 Z M372.5,70.8 L372.3,70.1 L367.7,69.1 L365.7,72.6 L368.3,74.2 L371.0,74.2 Z M376.4,64.5 L373.7,65.4 L373.1,66.3 L373.2,68.7 L377.7,69.1 L378.4,68.0 L377.7,65.1 Z M392.3,61.8 L390.2,57.7 L386.8,58.9 L386.8,61.9 L388.6,63.2 Z M355.3,34.0 L356.8,32.8 L353.0,30.0 L352.0,31.0 L350.2,32.1 L351.4,33.6 Z M359.6,45.5 L360.7,49.4 L364.6,49.8 L366.5,47.0 L364.1,45.1 L359.7,45.2 Z M367.3,58.2 L366.3,56.7 L361.6,58.8 L362.5,62.0 L363.6,62.4 L364.2,62.2 Z M408.3,84.6 L408.0,88.9 L408.6,89.8 L411.6,89.6 L410.5,84.7 Z M402.6,52.3 L402.5,52.4 L406.3,55.0 L407.0,54.0 L407.6,51.7 L406.4,49.3 L405.6,48.5 Z M373.8,20.6 L370.7,20.3 L369.6,21.8 L372.6,26.3 L373.4,26.2 L375.0,23.2 Z M398.9,52.4 L400.4,53.2 L402.5,52.4 L402.6,52.3 L400.9,47.6 L399.9,47.8 Z M394.6,48.9 L397.2,46.2 L396.9,45.1 L394.1,44.4 L392.2,48.1 L392.4,48.6 Z M361.6,58.8 L366.3,56.7 L366.1,56.0 L361.8,55.2 L360.9,58.3 Z M346.8,37.4 L349.8,38.5 L351.2,37.8 L351.4,33.6 L350.2,32.1 L350.2,32.1 L348.5,33.9 L346.7,34.5 L345.3,35.5 Z M387.6,75.5 L386.6,77.2 L386.7,78.5 L391.3,79.3 L392.5,77.3 L391.5,74.8 Z M334.5,72.0 L332.5,72.8 L332.8,74.0 L333.4,75.8 L334.6,77.5 L336.6,76.2 L337.0,73.7 Z M398.6,47.5 L399.9,47.8 L400.9,47.6 L402.8,45.9 L401.3,43.9 L397.9,43.7 L396.9,45.1 L397.2,46.2 Z M335.3,69.3 L338.5,68.3 L338.5,66.9 L335.4,63.2 L335.1,63.3 L333.4,64.5 L332.2,66.3 L331.8,66.9 Z M353.6,62.6 L351.8,62.1 L348.8,65.5 L352.4,69.8 L353.0,69.8 L355.2,67.3 Z M360.8,68.9 L364.2,66.4 L363.6,62.4 L362.5,62.0 L359.6,63.3 L358.9,67.1 Z M355.6,48.5 L354.4,47.6 L351.6,48.7 L350.9,50.7 L353.6,51.9 L356.0,50.2 Z M376.3,60.0 L374.8,58.9 L373.8,59.0 L372.1,61.8 L373.7,65.4 L376.4,64.5 Z M351.2,37.8 L354.7,38.5 L355.3,34.0 L351.4,33.6 Z M394.0,54.7 L394.1,54.7 L396.9,52.0 L396.6,51.0 L394.6,48.9 L392.4,48.6 L391.4,50.9 Z M407.4,67.4 L409.6,72.5 L411.1,73.4 L411.3,73.1 L412.5,70.7 L411.9,68.3 L410.1,67.1 L408.3,66.1 Z M382.1,75.1 L380.8,77.1 L381.5,79.1 L385.7,80.2 L386.7,78.5 L386.6,77.2 L382.6,75.0 Z M391.0,38.7 L394.8,38.5 L395.3,37.6 L393.5,33.7 L389.0,35.3 L389.0,35.3 L389.9,37.9 Z M355.3,42.7 L355.1,42.3 L349.8,42.5 L348.8,43.9 L349.1,45.2 L349.2,45.2 L354.0,45.7 Z M373.8,20.6 L375.6,18.6 L375.7,16.2 L374.7,15.4 L370.0,15.9 L370.1,16.1 L371.3,18.5 L370.7,20.2 L370.7,20.3 Z M368.7,65.3 L368.6,63.8 L364.2,62.2 L363.6,62.4 L364.2,66.4 L367.3,67.3 Z M346.5,65.6 L348.8,65.5 L351.8,62.1 L350.4,59.3 L345.9,60.2 Z M366.5,47.0 L366.9,46.9 L369.8,40.1 L368.6,38.9 L365.7,38.2 L364.2,39.2 L364.1,45.1 Z M404.0,87.5 L408.0,88.9 L408.3,84.6 L406.0,83.2 L406.0,83.2 L403.8,87.0 Z M386.8,58.9 L385.0,57.5 L381.7,59.0 L384.3,62.8 L386.8,61.9 Z M411.6,89.6 L412.3,89.9 L412.4,89.3 L413.7,88.0 L414.3,85.6 L413.1,83.8 L412.7,83.2 L410.5,84.7 Z M386.4,67.2 L383.2,64.8 L382.7,65.0 L381.5,67.9 L382.6,69.8 L384.8,70.1 Z M386.8,58.9 L390.2,57.7 L390.6,56.5 L387.6,53.4 L385.4,54.7 L385.0,57.5 Z M356.3,56.4 L356.5,56.5 L360.6,53.6 L359.4,51.0 L357.2,51.0 Z M334.5,72.0 L335.3,69.3 L331.8,66.9 L331.0,68.1 L331.6,69.9 L332.2,71.7 L332.5,72.8 Z M389.7,46.5 L389.8,43.5 L386.6,42.2 L384.7,46.0 L386.1,48.1 Z M400.9,75.0 L404.0,75.6 L405.0,72.4 L403.8,70.4 L403.6,70.4 L399.7,72.1 Z M359.2,44.3 L355.3,42.7 L354.0,45.7 L354.4,47.6 L355.6,48.5 L359.6,45.5 L359.7,45.2 Z M405.0,72.4 L409.6,72.5 L407.4,67.4 L405.8,68.0 L403.8,70.4 Z M403.1,46.0 L402.9,45.7 L404.6,43.9 L405.8,42.1 L405.3,40.2 L401.7,41.4 L401.3,43.9 L402.8,45.9 Z M395.1,72.1 L396.3,72.7 L398.9,71.8 L398.7,68.6 L396.3,66.6 L394.6,66.9 Z M373.4,10.6 L374.7,11.1 L375.5,10.7 L377.2,6.7 L376.7,6.5 L374.3,5.4 L372.3,5.4 Z M375.9,86.0 L377.3,86.7 L379.6,87.9 L380.1,88.3 L382.0,85.2 L379.8,82.1 L377.6,81.9 L375.7,83.0 Z M399.7,58.7 L396.3,57.8 L392.5,61.8 L394.8,64.8 L395.7,63.9 L398.1,61.5 L400.4,59.5 Z M358.9,67.1 L359.6,63.3 L356.6,61.1 L353.6,62.6 L355.2,67.3 Z M348.1,72.8 L348.0,72.9 L350.3,77.4 L350.5,77.1 L352.9,76.5 L355.2,75.4 L356.5,74.7 L353.0,69.8 L352.4,69.8 Z M382.6,69.8 L380.4,72.3 L382.1,75.1 L382.6,75.0 L385.6,71.8 L384.8,70.1 Z M386.6,42.2 L389.8,43.5 L391.3,42.7 L391.0,38.7 L389.9,37.9 L386.4,41.6 Z M394.5,31.9 L392.1,31.1 L390.4,29.3 L390.3,28.7 L388.8,29.6 L389.0,35.3 L393.5,33.7 Z M372.2,83.3 L370.2,81.0 L369.5,81.9 L367.7,83.7 L369.5,84.9 L370.7,86.7 L370.8,86.7 Z M368.6,38.9 L371.5,32.8 L370.3,31.4 L367.2,31.4 L364.8,35.1 L365.7,38.2 Z M369.6,21.8 L369.5,22.0 L367.4,24.0 L366.8,25.8 L371.0,27.6 L372.6,26.3 Z M350.5,59.1 L350.4,59.3 L351.8,62.1 L353.6,62.6 L356.6,61.1 L357.3,58.0 L356.5,56.5 L356.3,56.4 L355.7,56.2 Z M374.7,15.4 L374.7,11.1 L373.4,10.6 L370.4,11.3 L370.7,11.9 L369.5,13.7 L370.0,15.9 Z M406.0,83.2 L401.6,81.7 L399.5,83.4 L399.2,85.9 L403.8,87.0 Z M398.9,52.4 L399.9,47.8 L398.6,47.5 L396.6,51.0 L396.9,52.0 Z M386.8,35.4 L382.7,31.7 L380.5,35.6 L383.2,39.3 L383.2,39.3 Z M382.1,75.1 L380.4,72.3 L378.2,71.9 L376.7,73.3 L376.5,74.6 L377.6,76.8 L380.8,77.1 Z M379.8,82.1 L382.0,85.2 L384.8,84.5 L385.9,82.5 L385.7,80.2 L381.5,79.1 Z M378.2,23.2 L375.0,23.2 L373.4,26.2 L376.8,28.7 L379.1,25.3 Z M379.4,49.0 L372.5,49.2 L372.4,49.3 L372.3,50.7 L376.7,54.5 L379.6,53.9 L380.9,52.3 L380.9,51.9 Z M341.7,64.2 L345.4,66.4 L346.5,65.6 L345.9,60.2 L344.3,59.3 L343.5,60.4 L341.3,62.0 Z M371.0,74.2 L371.3,74.2 L371.7,75.8 L376.5,74.6 L376.7,73.3 L372.5,70.8 Z M364.8,35.1 L367.2,31.4 L364.8,28.7 L362.5,30.5 L360.7,31.6 L359.8,32.2 Z M357.3,58.0 L360.9,58.3 L361.8,55.2 L361.0,53.8 L360.6,53.6 L356.5,56.5 Z"/>
<g id="isl">
<circle cx="416.7" cy="54.4" r="0.45"/><circle cx="420.3" cy="52.8" r="0.4"/><circle cx="412" cy="57.2" r="0.45"/>
<circle cx="415.5" cy="58" r="0.5"/><circle cx="411.6" cy="61.1" r="0.45"/>
<path d="M414,61.2 L418,60.6 L422.3,61.2 L422,62 L418,61.6 L414,62 Z"/>
<path d="M413,64 L416,63.6 L418.3,64.4 L417,66.3 L414,66 Z"/>
<path d="M415,67 L417.5,66.8 L417,70.3 L415.2,70 Z"/>
<circle cx="416" cy="74" r="0.5"/><circle cx="417" cy="78" r="0.4"/><circle cx="416" cy="83" r="0.5"/>
<circle cx="417.5" cy="87" r="0.4"/><circle cx="415.5" cy="91" r="0.5"/><circle cx="413" cy="95" r="0.4"/>
</g>
<g id="spk" fill="#a8a8a8" opacity="0.8"><circle cx="420.4" cy="50.1" r="0.35"/><circle cx="420.0" cy="51.2" r="0.35"/><circle cx="419.9" cy="51.1" r="0.35"/><circle cx="417.8" cy="53.7" r="0.35"/><circle cx="417.7" cy="53.5" r="0.35"/><circle cx="418.7" cy="54.9" r="0.35"/><circle cx="417.7" cy="56.0" r="0.35"/><circle cx="416.5" cy="56.3" r="0.35"/><circle cx="415.8" cy="58.7" r="0.35"/><circle cx="414.8" cy="59.5" r="0.35"/><circle cx="414.5" cy="59.1" r="0.35"/><circle cx="414.0" cy="61.2" r="0.35"/><circle cx="412.2" cy="61.1" r="0.35"/><circle cx="412.9" cy="62.9" r="0.35"/><circle cx="416.2" cy="66.0" r="0.35"/><circle cx="416.6" cy="69.3" r="0.35"/><circle cx="416.1" cy="72.7" r="0.35"/><circle cx="416.8" cy="76.0" r="0.35"/><circle cx="415.2" cy="79.3" r="0.35"/><circle cx="416.4" cy="82.7" r="0.35"/><circle cx="415.3" cy="86.0" r="0.35"/><circle cx="416.8" cy="89.3" r="0.35"/><circle cx="416.6" cy="92.7" r="0.35"/><circle cx="414.3" cy="96.0" r="0.35"/></g>
<path id="riv" d="M391,40.4 L397,41 L404,42.5 L407,43.2 M383,40.2 L392,42 L399,43.6 L406,45.5" fill="none" stroke="#fff" stroke-width="0.8"/>
</defs>
<g transform="translate(-307.4,0)">
<use href="#v0" fill="#fbc0a2"/>
<use href="#v1" fill="#f8a888"/>
<use href="#v2" fill="#f48868"/>
<use href="#v3" fill="#ef4a33"/>
<use href="#v4" fill="#f48868"/>
<use href="#v5" fill="#f6906e"/>
<use href="#v6" fill="#ef4a33"/>
<use href="#v7" fill="#fde2d2"/>
<use href="#v8" fill="#f48868"/>
<use href="#v9" fill="#fde2d2"/>
<use href="#v10" fill="#fbc0a2"/>
<use href="#v11" fill="#fde0d0"/>
<use href="#v12" fill="#fbc0a2"/>
<use href="#v13" fill="#ef4a33"/>
<use href="#v14" fill="#ef4a33"/>
<use href="#v15" fill="#f5855f"/>
<use href="#v16" fill="#f38060"/>
<use href="#v17" fill="#ef4a33"/>
<use href="#v18" fill="#ef4a33"/>
<use href="#v19" fill="#f07050"/>
<use href="#v20" fill="#fbd0b8"/>
<use href="#v21" fill="#f07050"/>
<use href="#v22" fill="#e4081a"/>
<use href="#v23" fill="#fbc0a2"/>
<use href="#v24" fill="#fbc0a2"/>
<use href="#v25" fill="#fbc0a2"/>
<use href="#v26" fill="#f8a888"/>
<use href="#v27" fill="#ef4a33"/>
<use href="#v28" fill="#f47b62"/>
<use href="#v29" fill="#f6906e"/>
<use href="#v30" fill="#ee3a26"/>
<use href="#v31" fill="#f48868"/>
<use href="#v32" fill="#f6906e"/>
<use href="#v33" fill="#fbc0a2"/>
<use href="#v34" fill="#f07050"/>
<use href="#v35" fill="#ef4a33"/>
<use href="#v36" fill="#fbc0a2"/>
<use href="#v37" fill="#fbc0a2"/>
<use href="#v38" fill="#f8a888"/>
<use href="#v39" fill="#f6906e"/>
<use href="#v40" fill="#ee3a25"/>
<use href="#v41" fill="#fbc0a2"/>
<use href="#v42" fill="#ef4a33"/>
<use href="#v43" fill="#ef4a33"/>
<use href="#v44" fill="#fbc0a2"/>
<use href="#v45" fill="#fbc0a2"/>
<use href="#v46" fill="#ef4a33"/>
<use href="#v47" fill="#fbc0a2"/>
<use href="#v48" fill="#fbc0a2"/>
<use href="#v49" fill="#fbc0a2"/>
<use href="#v50" fill="#ef4a33"/>
<use href="#v51" fill="#ee3a26"/>
<use href="#v52" fill="#fbc0a2"/>
<use href="#v53" fill="#fbc0a2"/>
<use href="#v54" fill="#fbc0a2"/>
<use href="#v55" fill="#ef4a33"/>
<use href="#v56" fill="#f07050"/>
<use href="#v57" fill="#ee3a25"/>
<use href="#v58" fill="#f07050"/>
<use href="#v59" fill="#fbc0a2"/>
<use href="#v60" fill="#ef4a33"/>
<use href="#v61" fill="#fbc0a2"/>
<use href="#v62" fill="#fbd0b8"/>
<use href="#v63" fill="#fbc0a2"/>
<use href="#v64" fill="#ef4a33"/>
<use href="#v65" fill="#ee3a25"/>
<use href="#v66" fill="#fbc0a2"/>
<use href="#v67" fill="#ef4a33"/>
<use href="#v68" fill="#f6906e"/>
<use href="#v69" fill="#fbc0a2"/>
<use href="#v70" fill="#fbc0a2"/>
<use href="#v71" fill="#fbc0a2"/>
<use href="#v72" fill="#ef4a33"/>
<use href="#v73" fill="#f48868"/>
<use href="#v74" fill="#f6906e"/>
<use href="#v75" fill="#e4081a"/>
<use href="#v76" fill="#fbd0b8"/>
<use href="#v77" fill="#fbc0a2"/>
<use href="#v78" fill="#fbc0a2"/>
<use href="#v79" fill="#fbc0a2"/>
<use href="#v80" fill="#ef4a33"/>
<use href="#v81" fill="#f9a88c"/>
<use href="#v82" fill="#ef4a33"/>
<use href="#v83" fill="#f6906e"/>
<use href="#v84" fill="#f38060"/>
<use href="#v85" fill="#ef4a33"/>
<use href="#v86" fill="#f8a888"/>
<use href="#v87" fill="#ee3a25"/>
<use href="#v88" fill="#f2684a"/>
<use href="#v89" fill="#fbc0a2"/>
<use href="#v90" fill="#f6906e"/>
<use href="#v91" fill="#f2684a"/>
<use href="#v92" fill="#ef4a33"/>
<use href="#v93" fill="#fbc0a2"/>
<use href="#v94" fill="#fbc0a2"/>
<use href="#v95" fill="#fbc0a2"/>
<use href="#v96" fill="#f48868"/>
<use href="#v97" fill="#f2684a"/>
<use href="#v98" fill="#fbc0a2"/>
<use href="#v99" fill="#ee3a26"/>
<use href="#v100" fill="#f07050"/>
<use href="#v101" fill="#f07050"/>
<use href="#v102" fill="#ef4a33"/>
<use href="#v103" fill="#fde2d2"/>
<use href="#v104" fill="#fbc0a2"/>
<use href="#v105" fill="#f48868"/>
<use href="#v106" fill="#f6906e"/>
<use href="#v107" fill="#fbc0a2"/>
<use href="#v108" fill="#f07050"/>
<use href="#v109" fill="#ef4a33"/>
<use href="#v110" fill="#e4141c"/>
<use href="#v111" fill="#ef4a33"/>
<use href="#v112" fill="#fbc0a2"/>
<use href="#v113" fill="#fde2d2"/>
<use href="#v114" fill="#f07050"/>
<use href="#v115" fill="#fbc0a2"/>
<use href="#v116" fill="#f6906e"/>
<use href="#v117" fill="#ef4a33"/>
<use href="#v118" fill="#fde0d0"/>
<use href="#v119" fill="#fbd0b8"/>
<use href="#v120" fill="#f07050"/>
<use href="#v121" fill="#fbc0a2"/>
<use href="#v122" fill="#fbc0a2"/>
<use href="#v123" fill="#fbc0a2"/>
<use href="#v124" fill="#f6906e"/>
<use href="#v125" fill="#ef4a33"/>
<use href="#v126" fill="#e4081a"/>
<use href="#v127" fill="#f07050"/>
<use href="#v128" fill="#f38060"/>
<use href="#v129" fill="#fde0d0"/>
<use href="#v130" fill="#f79070"/>
<use href="#v131" fill="#f8a888"/>
<use href="#v132" fill="#f8a888"/>
<use href="#v133" fill="#fbc0a2"/>
<use href="#v134" fill="#ef4a33"/>
<use href="#v135" fill="#f48868"/>
<use href="#v136" fill="#fbc0a2"/>
<use href="#v137" fill="#f8a888"/>
<use href="#v138" fill="#fde5d5"/>
<use href="#v139" fill="#fbc0a2"/>
<use href="#v140" fill="#f07050"/>
<use href="#v141" fill="#ef4a33"/>
<use href="#v142" fill="#fbc0a2"/>
<use href="#v143" fill="#ef4a33"/>
<use href="#v144" fill="#f8a888"/>
<use href="#v145" fill="#f5855f"/>
<use href="#v146" fill="#fbc0a2"/>
<use href="#v147" fill="#fde0d0"/>
<use href="#v148" fill="#ef4a33"/>
<use href="#v149" fill="#ef4a33"/>
<use href="#v150" fill="#f07050"/>
<use href="#v151" fill="#f6906e"/>
<use href="#v152" fill="#e4081a"/>
<use href="#v153" fill="#f38060"/>
<use href="#v154" fill="#f6906e"/>
<use href="#v155" fill="#fbc0a2"/>
<use href="#v156" fill="#ee3a26"/>
<use href="#v157" fill="#f6906e"/>
<use href="#v158" fill="#fbc0a2"/>
<use href="#v159" fill="#fde5d5"/>
<use href="#v160" fill="#f6906e"/>
<use href="#v161" fill="#f5855f"/>
<use href="#v162" fill="#ef4a33"/>
<use href="#v163" fill="#f5855f"/>
<use href="#v164" fill="#f07050"/>
<use href="#v165" fill="#fbc0a2"/>
<use href="#v166" fill="#ef4a33"/>
<use href="#v167" fill="#fbc0a2"/>
<use href="#v168" fill="#fbc0a2"/>
<use href="#v169" fill="#fbc0a2"/>
<use href="#v170" fill="#fbc0a2"/>
<use href="#v171" fill="#fbc0a2"/>
<use href="#v172" fill="#fbc0a2"/>
<use href="#v173" fill="#ef4a33"/>
<use href="#v174" fill="#fde2d2"/>
<use href="#v175" fill="#fbd0b8"/>
<use href="#v176" fill="#ef4a33"/>
<use href="#v177" fill="#f6906e"/>
<use href="#v178" fill="#ef4a33"/>
<use href="#v179" fill="#fbc0a2"/>
<use href="#v180" fill="#f8a888"/>
<use href="#v181" fill="#ef4a33"/>
<use href="#v182" fill="#fbc0a2"/>
<use href="#v183" fill="#fbc0a2"/>
<use href="#v184" fill="#e4141c"/>
<use href="#v185" fill="#ef4a33"/>
<use href="#v186" fill="#fbc0a2"/>
<use href="#v187" fill="#fbc0a2"/>
<use href="#v188" fill="#fbc0a2"/>
<use href="#v189" fill="#fbc0a2"/>
<use href="#vb" stroke="rgba(255,255,255,0.22)"/>
<use href="#riv"/><use href="#isl" fill="#e8c0b0"/><use href="#spk"/>
</g><g transform="translate(-207.4,0)">
<use href="#v0" fill="#30f030"/>
<use href="#v1" fill="#20b070"/>
<use href="#v2" fill="#20b070"/>
<use href="#v3" fill="#101080"/>
<use href="#v4" fill="#20b070"/>
<use href="#v5" fill="#1a70b0"/>
<use href="#v6" fill="#20b070"/>
<use href="#v7" fill="#20b070"/>
<use href="#v8" fill="#30f030"/>
<use href="#v9" fill="#30f030"/>
<use href="#v10" fill="#20b070"/>
<use href="#v11" fill="#101080"/>
<use href="#v12" fill="#30f030"/>
<use href="#v13" fill="#20b070"/>
<use href="#v14" fill="#20b070"/>
<use href="#v15" fill="#1a70b0"/>
<use href="#v16" fill="#f0f080"/>
<use href="#v17" fill="#1a70b0"/>
<use href="#v18" fill="#101080"/>
<use href="#v19" fill="#1a70b0"/>
<use href="#v20" fill="#20b070"/>
<use href="#v21" fill="#1a70b0"/>
<use href="#v22" fill="#101080"/>
<use href="#v23" fill="#30f030"/>
<use href="#v24" fill="#1a70b0"/>
<use href="#v25" fill="#20b070"/>
<use href="#v26" fill="#20b070"/>
<use href="#v27" fill="#20b070"/>
<use href="#v28" fill="#1a70b0"/>
<use href="#v29" fill="#30f030"/>
<use href="#v30" fill="#1a70b0"/>
<use href="#v31" fill="#1a70b0"/>
<use href="#v32" fill="#20b070"/>
<use href="#v33" fill="#30f030"/>
<use href="#v34" fill="#30f030"/>
<use href="#v35" fill="#101080"/>
<use href="#v36" fill="#30f030"/>
<use href="#v37" fill="#30f030"/>
<use href="#v38" fill="#20b070"/>
<use href="#v39" fill="#1a70b0"/>
<use href="#v40" fill="#1a70b0"/>
<use href="#v41" fill="#30f030"/>
<use href="#v42" fill="#101080"/>
<use href="#v43" fill="#1a70b0"/>
<use href="#v44" fill="#20b070"/>
<use href="#v45" fill="#30f030"/>
<use href="#v46" fill="#101080"/>
<use href="#v47" fill="#30f030"/>
<use href="#v48" fill="#20b070"/>
<use href="#v49" fill="#30f030"/>
<use href="#v50" fill="#1a70b0"/>
<use href="#v51" fill="#1a70b0"/>
<use href="#v52" fill="#30f030"/>
<use href="#v53" fill="#30f030"/>
<use href="#v54" fill="#20b070"/>
<use href="#v55" fill="#1a70b0"/>
<use href="#v56" fill="#30f030"/>
<use href="#v57" fill="#1a70b0"/>
<use href="#v58" fill="#20b070"/>
<use href="#v59" fill="#20b070"/>
<use href="#v60" fill="#20b070"/>
<use href="#v61" fill="#1a70b0"/>
<use href="#v62" fill="#1a70b0"/>
<use href="#v63" fill="#1a70b0"/>
<use href="#v64" fill="#101080"/>
<use href="#v65" fill="#1a70b0"/>
<use href="#v66" fill="#20b070"/>
<use href="#v67" fill="#20b070"/>
<use href="#v68" fill="#1a70b0"/>
<use href="#v69" fill="#30f030"/>
<use href="#v70" fill="#30f030"/>
<use href="#v71" fill="#20b070"/>
<use href="#v72" fill="#101080"/>
<use href="#v73" fill="#30f030"/>
<use href="#v74" fill="#20b070"/>
<use href="#v75" fill="#101080"/>
<use href="#v76" fill="#20b070"/>
<use href="#v77" fill="#30f030"/>
<use href="#v78" fill="#1a70b0"/>
<use href="#v79" fill="#30f030"/>
<use href="#v80" fill="#1a70b0"/>
<use href="#v81" fill="#20b070"/>
<use href="#v82" fill="#20b070"/>
<use href="#v83" fill="#1a70b0"/>
<use href="#v84" fill="#30f030"/>
<use href="#v85" fill="#20b070"/>
<use href="#v86" fill="#f0f080"/>
<use href="#v87" fill="#1a70b0"/>
<use href="#v88" fill="#101080"/>
<use href="#v89" fill="#1a70b0"/>
<use href="#v90" fill="#20b070"/>
<use href="#v91" fill="#101080"/>
<use href="#v92" fill="#101080"/>
<use href="#v93" fill="#30f030"/>
<use href="#v94" fill="#30f030"/>
<use href="#v95" fill="#30f030"/>
<use href="#v96" fill="#30f030"/>
<use href="#v97" fill="#20b070"/>
<use href="#v98" fill="#20b070"/>
<use href="#v99" fill="#1a70b0"/>
<use href="#v100" fill="#20b070"/>
<use href="#v101" fill="#101080"/>
<use href="#v102" fill="#20b070"/>
<use href="#v103" fill="#20b070"/>
<use href="#v104" fill="#30f030"/>
<use href="#v105" fill="#101080"/>
<use href="#v106" fill="#1a70b0"/>
<use href="#v107" fill="#20b070"/>
<use href="#v108" fill="#20b070"/>
<use href="#v109" fill="#1a70b0"/>
<use href="#v110" fill="#1a70b0"/>
<use href="#v111" fill="#1a70b0"/>
<use href="#v112" fill="#1a70b0"/>
<use href="#v113" fill="#20b070"/>
<use href="#v114" fill="#30f030"/>
<use href="#v115" fill="#30f030"/>
<use href="#v116" fill="#20b070"/>
<use href="#v117" fill="#1a70b0"/>
<use href="#v118" fill="#101080"/>
<use href="#v119" fill="#1a70b0"/>
<use href="#v120" fill="#20b070"/>
<use href="#v121" fill="#30f030"/>
<use href="#v122" fill="#30f030"/>
<use href="#v123" fill="#30f030"/>
<use href="#v124" fill="#30f030"/>
<use href="#v125" fill="#20b070"/>
<use href="#v126" fill="#20b070"/>
<use href="#v127" fill="#1a70b0"/>
<use href="#v128" fill="#30f030"/>
<use href="#v129" fill="#20b070"/>
<use href="#v130" fill="#20b070"/>
<use href="#v131" fill="#20b070"/>
<use href="#v132" fill="#20b070"/>
<use href="#v133" fill="#1a70b0"/>
<use href="#v134" fill="#20b070"/>
<use href="#v135" fill="#30f030"/>
<use href="#v136" fill="#20b070"/>
<use href="#v137" fill="#20b070"/>
<use href="#v138" fill="#30f030"/>
<use href="#v139" fill="#20b070"/>
<use href="#v140" fill="#20b070"/>
<use href="#v141" fill="#101080"/>
<use href="#v142" fill="#30f030"/>
<use href="#v143" fill="#20b070"/>
<use href="#v144" fill="#1a70b0"/>
<use href="#v145" fill="#1a70b0"/>
<use href="#v146" fill="#30f030"/>
<use href="#v147" fill="#101080"/>
<use href="#v148" fill="#101080"/>
<use href="#v149" fill="#20b070"/>
<use href="#v150" fill="#20b070"/>
<use href="#v151" fill="#20b070"/>
<use href="#v152" fill="#101080"/>
<use href="#v153" fill="#30f030"/>
<use href="#v154" fill="#20b070"/>
<use href="#v155" fill="#30f030"/>
<use href="#v156" fill="#1a70b0"/>
<use href="#v157" fill="#30f030"/>
<use href="#v158" fill="#1a70b0"/>
<use href="#v159" fill="#30f030"/>
<use href="#v160" fill="#20b070"/>
<use href="#v161" fill="#30f030"/>
<use href="#v162" fill="#1a70b0"/>
<use href="#v163" fill="#1a70b0"/>
<use href="#v164" fill="#20b070"/>
<use href="#v165" fill="#30f030"/>
<use href="#v166" fill="#20b070"/>
<use href="#v167" fill="#30f030"/>
<use href="#v168" fill="#30f030"/>
<use href="#v169" fill="#1a70b0"/>
<use href="#v170" fill="#30f030"/>
<use href="#v171" fill="#30f030"/>
<use href="#v172" fill="#20b070"/>
<use href="#v173" fill="#20b070"/>
<use href="#v174" fill="#30f030"/>
<use href="#v175" fill="#20b070"/>
<use href="#v176" fill="#20b070"/>
<use href="#v177" fill="#1a70b0"/>
<use href="#v178" fill="#20b070"/>
<use href="#v179" fill="#30f030"/>
<use href="#v180" fill="#20b070"/>
<use href="#v181" fill="#20b070"/>
<use href="#v182" fill="#20b070"/>
<use href="#v183" fill="#30f030"/>
<use href="#v184" fill="#101080"/>
<use href="#v185" fill="#20b070"/>
<use href="#v186" fill="#20b070"/>
<use href="#v187" fill="#20b070"/>
<use href="#v188" fill="#20b070"/>
<use href="#v189" fill="#1a70b0"/>
<use href="#vb" stroke="rgba(255,255,255,0.15)"/>
<use href="#riv"/><use href="#isl" fill="#d8e070"/><use href="#spk"/>
</g><g transform="translate(-105.8,0)">
<use href="#v0" fill="#148a4e"/>
<use href="#v1" fill="#cdecd9"/>
<use href="#v2" fill="#4eae7c"/>
<use href="#v3" fill="#148a4e"/>
<use href="#v4" fill="#148a4e"/>
<use href="#v5" fill="#148a4e"/>
<use href="#v6" fill="#92d2b2"/>
<use href="#v7" fill="#005c2c"/>
<use href="#v8" fill="#148a4e"/>
<use href="#v9" fill="#005c2c"/>
<use href="#v10" fill="#92d2b2"/>
<use href="#v11" fill="#148a4e"/>
<use href="#v12" fill="#148a4e"/>
<use href="#v13" fill="#4eae7c"/>
<use href="#v14" fill="#4eae7c"/>
<use href="#v15" fill="#148a4e"/>
<use href="#v16" fill="#4eae7c"/>
<use href="#v17" fill="#148a4e"/>
<use href="#v18" fill="#92d2b2"/>
<use href="#v19" fill="#4eae7c"/>
<use href="#v20" fill="#4eae7c"/>
<use href="#v21" fill="#148a4e"/>
<use href="#v22" fill="#005c2c"/>
<use href="#v23" fill="#148a4e"/>
<use href="#v24" fill="#92d2b2"/>
<use href="#v25" fill="#148a4e"/>
<use href="#v26" fill="#cdecd9"/>
<use href="#v27" fill="#92d2b2"/>
<use href="#v28" fill="#92d2b2"/>
<use href="#v29" fill="#cdecd9"/>
<use href="#v30" fill="#148a4e"/>
<use href="#v31" fill="#4eae7c"/>
<use href="#v32" fill="#148a4e"/>
<use href="#v33" fill="#148a4e"/>
<use href="#v34" fill="#148a4e"/>
<use href="#v35" fill="#005c2c"/>
<use href="#v36" fill="#4eae7c"/>
<use href="#v37" fill="#4eae7c"/>
<use href="#v38" fill="#cdecd9"/>
<use href="#v39" fill="#92d2b2"/>
<use href="#v40" fill="#005c2c"/>
<use href="#v41" fill="#148a4e"/>
<use href="#v42" fill="#005c2c"/>
<use href="#v43" fill="#148a4e"/>
<use href="#v44" fill="#005c2c"/>
<use href="#v45" fill="#005c2c"/>
<use href="#v46" fill="#148a4e"/>
<use href="#v47" fill="#148a4e"/>
<use href="#v48" fill="#148a4e"/>
<use href="#v49" fill="#148a4e"/>
<use href="#v50" fill="#148a4e"/>
<use href="#v51" fill="#148a4e"/>
<use href="#v52" fill="#148a4e"/>
<use href="#v53" fill="#4eae7c"/>
<use href="#v54" fill="#148a4e"/>
<use href="#v55" fill="#005c2c"/>
<use href="#v56" fill="#148a4e"/>
<use href="#v57" fill="#005c2c"/>
<use href="#v58" fill="#4eae7c"/>
<use href="#v59" fill="#92d2b2"/>
<use href="#v60" fill="#92d2b2"/>
<use href="#v61" fill="#92d2b2"/>
<use href="#v62" fill="#4eae7c"/>
<use href="#v63" fill="#92d2b2"/>
<use href="#v64" fill="#005c2c"/>
<use href="#v65" fill="#005c2c"/>
<use href="#v66" fill="#4eae7c"/>
<use href="#v67" fill="#4eae7c"/>
<use href="#v68" fill="#92d2b2"/>
<use href="#v69" fill="#4eae7c"/>
<use href="#v70" fill="#4eae7c"/>
<use href="#v71" fill="#cdecd9"/>
<use href="#v72" fill="#005c2c"/>
<use href="#v73" fill="#4eae7c"/>
<use href="#v74" fill="#cdecd9"/>
<use href="#v75" fill="#005c2c"/>
<use href="#v76" fill="#92d2b2"/>
<use href="#v77" fill="#148a4e"/>
<use href="#v78" fill="#148a4e"/>
<use href="#v79" fill="#92d2b2"/>
<use href="#v80" fill="#4eae7c"/>
<use href="#v81" fill="#92d2b2"/>
<use href="#v82" fill="#92d2b2"/>
<use href="#v83" fill="#148a4e"/>
<use href="#v84" fill="#148a4e"/>
<use href="#v85" fill="#92d2b2"/>
<use href="#v86" fill="#cdecd9"/>
<use href="#v87" fill="#005c2c"/>
<use href="#v88" fill="#148a4e"/>
<use href="#v89" fill="#148a4e"/>
<use href="#v90" fill="#148a4e"/>
<use href="#v91" fill="#92d2b2"/>
<use href="#v92" fill="#148a4e"/>
<use href="#v93" fill="#148a4e"/>
<use href="#v94" fill="#148a4e"/>
<use href="#v95" fill="#148a4e"/>
<use href="#v96" fill="#4eae7c"/>
<use href="#v97" fill="#4eae7c"/>
<use href="#v98" fill="#005c2c"/>
<use href="#v99" fill="#4eae7c"/>
<use href="#v100" fill="#4eae7c"/>
<use href="#v101" fill="#148a4e"/>
<use href="#v102" fill="#005c2c"/>
<use href="#v103" fill="#005c2c"/>
<use href="#v104" fill="#148a4e"/>
<use href="#v105" fill="#4eae7c"/>
<use href="#v106" fill="#148a4e"/>
<use href="#v107" fill="#148a4e"/>
<use href="#v108" fill="#148a4e"/>
<use href="#v109" fill="#92d2b2"/>
<use href="#v110" fill="#4eae7c"/>
<use href="#v111" fill="#4eae7c"/>
<use href="#v112" fill="#4eae7c"/>
<use href="#v113" fill="#005c2c"/>
<use href="#v114" fill="#148a4e"/>
<use href="#v115" fill="#148a4e"/>
<use href="#v116" fill="#4eae7c"/>
<use href="#v117" fill="#4eae7c"/>
<use href="#v118" fill="#cdecd9"/>
<use href="#v119" fill="#92d2b2"/>
<use href="#v120" fill="#cdecd9"/>
<use href="#v121" fill="#4eae7c"/>
<use href="#v122" fill="#148a4e"/>
<use href="#v123" fill="#148a4e"/>
<use href="#v124" fill="#4eae7c"/>
<use href="#v125" fill="#4eae7c"/>
<use href="#v126" fill="#92d2b2"/>
<use href="#v127" fill="#4eae7c"/>
<use href="#v128" fill="#4eae7c"/>
<use href="#v129" fill="#cdecd9"/>
<use href="#v130" fill="#92d2b2"/>
<use href="#v131" fill="#cdecd9"/>
<use href="#v132" fill="#cdecd9"/>
<use href="#v133" fill="#92d1b2"/>
<use href="#v134" fill="#92d2b2"/>
<use href="#v135" fill="#92d2b2"/>
<use href="#v136" fill="#92d2b2"/>
<use href="#v137" fill="#cdecd9"/>
<use href="#v138" fill="#148a4e"/>
<use href="#v139" fill="#4eae7c"/>
<use href="#v140" fill="#4eae7c"/>
<use href="#v141" fill="#148a4e"/>
<use href="#v142" fill="#148a4e"/>
<use href="#v143" fill="#92d2b2"/>
<use href="#v144" fill="#148a4e"/>
<use href="#v145" fill="#4eae7c"/>
<use href="#v146" fill="#4eae7c"/>
<use href="#v147" fill="#148a4e"/>
<use href="#v148" fill="#148a4e"/>
<use href="#v149" fill="#92d2b2"/>
<use href="#v150" fill="#148a4e"/>
<use href="#v151" fill="#92d2b2"/>
<use href="#v152" fill="#005c2c"/>
<use href="#v153" fill="#148a4e"/>
<use href="#v154" fill="#148a4e"/>
<use href="#v155" fill="#4eae7c"/>
<use href="#v156" fill="#148a4e"/>
<use href="#v157" fill="#148a4e"/>
<use href="#v158" fill="#92d2b2"/>
<use href="#v159" fill="#148a4e"/>
<use href="#v160" fill="#4eae7c"/>
<use href="#v161" fill="#148a4e"/>
<use href="#v162" fill="#148a4e"/>
<use href="#v163" fill="#148a4e"/>
<use href="#v164" fill="#cdecd9"/>
<use href="#v165" fill="#148a4e"/>
<use href="#v166" fill="#92d2b2"/>
<use href="#v167" fill="#005c2c"/>
<use href="#v168" fill="#cdecd9"/>
<use href="#v169" fill="#4eae7c"/>
<use href="#v170" fill="#148a4e"/>
<use href="#v171" fill="#148a4e"/>
<use href="#v172" fill="#cdecd9"/>
<use href="#v173" fill="#148a4e"/>
<use href="#v174" fill="#005c2c"/>
<use href="#v175" fill="#4eae7c"/>
<use href="#v176" fill="#92d2b2"/>
<use href="#v177" fill="#92d2b2"/>
<use href="#v178" fill="#92d2b2"/>
<use href="#v179" fill="#148a4e"/>
<use href="#v180" fill="#cdecd9"/>
<use href="#v181" fill="#4eae7c"/>
<use href="#v182" fill="#148a4e"/>
<use href="#v183" fill="#4eae7c"/>
<use href="#v184" fill="#92d2b2"/>
<use href="#v185" fill="#4eae7c"/>
<use href="#v186" fill="#005c2c"/>
<use href="#v187" fill="#005c2c"/>
<use href="#v188" fill="#4eae7c"/>
<use href="#v189" fill="#92d2b2"/>
<use href="#vb" stroke="rgba(255,255,255,0.2)"/>
<use href="#riv"/><use href="#isl" fill="#b0d8c0"/><use href="#spk"/>
</g><g transform="translate(0,0)">
<use href="#v0" fill="#2a98e8"/>
<use href="#v1" fill="#a0e8f0"/>
<use href="#v2" fill="#50b8f0"/>
<use href="#v3" fill="#2090e8"/>
<use href="#v4" fill="#50b8f0"/>
<use href="#v5" fill="#1848d0"/>
<use href="#v6" fill="#50b8f0"/>
<use href="#v7" fill="#1848d0"/>
<use href="#v8" fill="#2a98e8"/>
<use href="#v9" fill="#1848d0"/>
<use href="#v10" fill="#50b8f0"/>
<use href="#v11" fill="#2090e8"/>
<use href="#v12" fill="#2090e8"/>
<use href="#v13" fill="#50b8f0"/>
<use href="#v14" fill="#50b8f0"/>
<use href="#v15" fill="#50b8f0"/>
<use href="#v16" fill="#2a98e8"/>
<use href="#v17" fill="#50b8f0"/>
<use href="#v18" fill="#2090e8"/>
<use href="#v19" fill="#50b8f0"/>
<use href="#v20" fill="#2090e8"/>
<use href="#v21" fill="#2090e8"/>
<use href="#v22" fill="#1848d0"/>
<use href="#v23" fill="#2090e8"/>
<use href="#v24" fill="#1848d0"/>
<use href="#v25" fill="#2a98e8"/>
<use href="#v26" fill="#a0e8f0"/>
<use href="#v27" fill="#2090e8"/>
<use href="#v28" fill="#50b8f0"/>
<use href="#v29" fill="#a0e8f0"/>
<use href="#v30" fill="#2090e8"/>
<use href="#v31" fill="#50b8f0"/>
<use href="#v32" fill="#50b8f0"/>
<use href="#v33" fill="#2090e8"/>
<use href="#v34" fill="#2090e8"/>
<use href="#v35" fill="#50b8f0"/>
<use href="#v36" fill="#2a98e8"/>
<use href="#v37" fill="#2a98e8"/>
<use href="#v38" fill="#a0e8f0"/>
<use href="#v39" fill="#50b8f0"/>
<use href="#v40" fill="#2090e8"/>
<use href="#v41" fill="#50b8f0"/>
<use href="#v42" fill="#2090e8"/>
<use href="#v43" fill="#50b8f0"/>
<use href="#v44" fill="#50b8f0"/>
<use href="#v45" fill="#2090e8"/>
<use href="#v46" fill="#50b8f0"/>
<use href="#v47" fill="#2a98e8"/>
<use href="#v48" fill="#2090e8"/>
<use href="#v49" fill="#50b8f0"/>
<use href="#v50" fill="#50b8f0"/>
<use href="#v51" fill="#2090e8"/>
<use href="#v52" fill="#2a98e8"/>
<use href="#v53" fill="#2090e8"/>
<use href="#v54" fill="#50b8f0"/>
<use href="#v55" fill="#50b8f0"/>
<use href="#v56" fill="#2090e8"/>
<use href="#v57" fill="#2090e8"/>
<use href="#v58" fill="#50b8f0"/>
<use href="#v59" fill="#2090e8"/>
<use href="#v60" fill="#50b8f0"/>
<use href="#v61" fill="#2090e8"/>
<use href="#v62" fill="#2090e8"/>
<use href="#v63" fill="#2090e8"/>
<use href="#v64" fill="#2090e8"/>
<use href="#v65" fill="#2090e8"/>
<use href="#v66" fill="#2a98e8"/>
<use href="#v67" fill="#50b8f0"/>
<use href="#v68" fill="#50b8f0"/>
<use href="#v69" fill="#2a98e8"/>
<use href="#v70" fill="#2a98e8"/>
<use href="#v71" fill="#a0e8f0"/>
<use href="#v72" fill="#2090e8"/>
<use href="#v73" fill="#2a98e8"/>
<use href="#v74" fill="#a0e8f0"/>
<use href="#v75" fill="#1848d0"/>
<use href="#v76" fill="#50b8f0"/>
<use href="#v77" fill="#2090e8"/>
<use href="#v78" fill="#1848d0"/>
<use href="#v79" fill="#50b8f0"/>
<use href="#v80" fill="#50b8f0"/>
<use href="#v81" fill="#50b8f0"/>
<use href="#v82" fill="#50b8f0"/>
<use href="#v83" fill="#1848d0"/>
<use href="#v84" fill="#50b8f0"/>
<use href="#v85" fill="#2090e8"/>
<use href="#v86" fill="#80d4f0"/>
<use href="#v87" fill="#2090e8"/>
<use href="#v88" fill="#2090e8"/>
<use href="#v89" fill="#2e9ceb"/>
<use href="#v90" fill="#50b8f0"/>
<use href="#v91" fill="#2090e8"/>
<use href="#v92" fill="#2090e8"/>
<use href="#v93" fill="#50b8f0"/>
<use href="#v94" fill="#50b8f0"/>
<use href="#v95" fill="#50b8f0"/>
<use href="#v96" fill="#2a98e8"/>
<use href="#v97" fill="#50b8f0"/>
<use href="#v98" fill="#2a98e8"/>
<use href="#v99" fill="#2a98e8"/>
<use href="#v100" fill="#2090e8"/>
<use href="#v101" fill="#2090e8"/>
<use href="#v102" fill="#50b8f0"/>
<use href="#v103" fill="#1848d0"/>
<use href="#v104" fill="#2090e8"/>
<use href="#v105" fill="#50b8f0"/>
<use href="#v106" fill="#1848d0"/>
<use href="#v107" fill="#50b8f0"/>
<use href="#v108" fill="#2090e8"/>
<use href="#v109" fill="#50b8f0"/>
<use href="#v110" fill="#50b8f0"/>
<use href="#v111" fill="#2090e8"/>
<use href="#v112" fill="#2a98e8"/>
<use href="#v113" fill="#1848d0"/>
<use href="#v114" fill="#50b8f0"/>
<use href="#v115" fill="#50b8f0"/>
<use href="#v116" fill="#a0e8f0"/>
<use href="#v117" fill="#50b8f0"/>
<use href="#v118" fill="#2090e8"/>
<use href="#v119" fill="#2090e8"/>
<use href="#v120" fill="#50b8f0"/>
<use href="#v121" fill="#2a98e8"/>
<use href="#v122" fill="#2090e8"/>
<use href="#v123" fill="#2090e8"/>
<use href="#v124" fill="#50b8f0"/>
<use href="#v125" fill="#2090e8"/>
<use href="#v126" fill="#1848d0"/>
<use href="#v127" fill="#2090e8"/>
<use href="#v128" fill="#50b8f0"/>
<use href="#v129" fill="#a0e8f0"/>
<use href="#v130" fill="#50b8f0"/>
<use href="#v131" fill="#80d4f0"/>
<use href="#v132" fill="#a0e8f0"/>
<use href="#v133" fill="#2090e8"/>
<use href="#v134" fill="#2090e8"/>
<use href="#v135" fill="#2a98e8"/>
<use href="#v136" fill="#2090e8"/>
<use href="#v137" fill="#a0e8f0"/>
<use href="#v138" fill="#2090e8"/>
<use href="#v139" fill="#50b8f0"/>
<use href="#v140" fill="#2090e8"/>
<use href="#v141" fill="#2090e8"/>
<use href="#v142" fill="#50b8f0"/>
<use href="#v143" fill="#2090e8"/>
<use href="#v144" fill="#1848d0"/>
<use href="#v145" fill="#2a98e8"/>
<use href="#v146" fill="#50b8f0"/>
<use href="#v147" fill="#2090e8"/>
<use href="#v148" fill="#2090e8"/>
<use href="#v149" fill="#50b8f0"/>
<use href="#v150" fill="#2090e8"/>
<use href="#v151" fill="#50b8f0"/>
<use href="#v152" fill="#1848d0"/>
<use href="#v153" fill="#50b8f0"/>
<use href="#v154" fill="#2090e8"/>
<use href="#v155" fill="#2a98e8"/>
<use href="#v156" fill="#2090e8"/>
<use href="#v157" fill="#1848d0"/>
<use href="#v158" fill="#a0e8f0"/>
<use href="#v159" fill="#2090e8"/>
<use href="#v160" fill="#7fd5f0"/>
<use href="#v161" fill="#50b8f0"/>
<use href="#v162" fill="#50b8f0"/>
<use href="#v163" fill="#50b8f0"/>
<use href="#v164" fill="#50b8f0"/>
<use href="#v165" fill="#50b8f0"/>
<use href="#v166" fill="#50b8f0"/>
<use href="#v167" fill="#2a98e8"/>
<use href="#v168" fill="#50b8f0"/>
<use href="#v169" fill="#50b8f0"/>
<use href="#v170" fill="#2090e8"/>
<use href="#v171" fill="#2a98e8"/>
<use href="#v172" fill="#a0e8f0"/>
<use href="#v173" fill="#50b8f0"/>
<use href="#v174" fill="#1848d0"/>
<use href="#v175" fill="#50b8f0"/>
<use href="#v176" fill="#50b8f0"/>
<use href="#v177" fill="#50b8f0"/>
<use href="#v178" fill="#50b8f0"/>
<use href="#v179" fill="#2a98e8"/>
<use href="#v180" fill="#a0e8f0"/>
<use href="#v181" fill="#50b8f0"/>
<use href="#v182" fill="#2a98e8"/>
<use href="#v183" fill="#50b8f0"/>
<use href="#v184" fill="#2090e8"/>
<use href="#v185" fill="#50b8f0"/>
<use href="#v186" fill="#50b8f0"/>
<use href="#v187" fill="#1848d0"/>
<use href="#v188" fill="#50b8f0"/>
<use href="#v189" fill="#50b8f0"/>
<use href="#vb" stroke="rgba(255,255,255,0.18)"/>
<use href="#riv"/><use href="#isl" fill="#90d0e8"/><use href="#spk"/>
</g><g transform="translate(108.6,0)">
<use href="#v0" fill="#f8a020"/>
<use href="#v1" fill="#f8f664"/>
<use href="#v2" fill="#f8f664"/>
<use href="#v3" fill="#f8f664"/>
<use href="#v4" fill="#f8f664"/>
<use href="#v5" fill="#f8f664"/>
<use href="#v6" fill="#f8f664"/>
<use href="#v7" fill="#cc5000"/>
<use href="#v8" fill="#f8a020"/>
<use href="#v9" fill="#cc5000"/>
<use href="#v10" fill="#f8f664"/>
<use href="#v11" fill="#f8f664"/>
<use href="#v12" fill="#f8f664"/>
<use href="#v13" fill="#f8f664"/>
<use href="#v14" fill="#f8f664"/>
<use href="#v15" fill="#f8f664"/>
<use href="#v16" fill="#f8c850"/>
<use href="#v17" fill="#f8f664"/>
<use href="#v18" fill="#f8f664"/>
<use href="#v19" fill="#f8c850"/>
<use href="#v20" fill="#f8f664"/>
<use href="#v21" fill="#f8f664"/>
<use href="#v22" fill="#f8f664"/>
<use href="#v23" fill="#cc5000"/>
<use href="#v24" fill="#f8f664"/>
<use href="#v25" fill="#f8a020"/>
<use href="#v26" fill="#f8f664"/>
<use href="#v27" fill="#f8f664"/>
<use href="#v28" fill="#f8f664"/>
<use href="#v29" fill="#f8f664"/>
<use href="#v30" fill="#f8c850"/>
<use href="#v31" fill="#f8f664"/>
<use href="#v32" fill="#f8f664"/>
<use href="#v33" fill="#cc5000"/>
<use href="#v34" fill="#f8a020"/>
<use href="#v35" fill="#f8f664"/>
<use href="#v36" fill="#f8a020"/>
<use href="#v37" fill="#f8c850"/>
<use href="#v38" fill="#f8f664"/>
<use href="#v39" fill="#f8f664"/>
<use href="#v40" fill="#f8c850"/>
<use href="#v41" fill="#f8c850"/>
<use href="#v42" fill="#f8f664"/>
<use href="#v43" fill="#f8f664"/>
<use href="#v44" fill="#f8f664"/>
<use href="#v45" fill="#f8a020"/>
<use href="#v46" fill="#f8f664"/>
<use href="#v47" fill="#f8c850"/>
<use href="#v48" fill="#f8a020"/>
<use href="#v49" fill="#f8c850"/>
<use href="#v50" fill="#f8f664"/>
<use href="#v51" fill="#f8c850"/>
<use href="#v52" fill="#f8a020"/>
<use href="#v53" fill="#f8c850"/>
<use href="#v54" fill="#f8a020"/>
<use href="#v55" fill="#f8f664"/>
<use href="#v56" fill="#cc5000"/>
<use href="#v57" fill="#f8c850"/>
<use href="#v58" fill="#f8f664"/>
<use href="#v59" fill="#f8f664"/>
<use href="#v60" fill="#f8f664"/>
<use href="#v61" fill="#f8f664"/>
<use href="#v62" fill="#f8f664"/>
<use href="#v63" fill="#f8f664"/>
<use href="#v64" fill="#f8f664"/>
<use href="#v65" fill="#f8c850"/>
<use href="#v66" fill="#f8a020"/>
<use href="#v67" fill="#f8f664"/>
<use href="#v68" fill="#f8f664"/>
<use href="#v69" fill="#f8c850"/>
<use href="#v70" fill="#f8c850"/>
<use href="#v71" fill="#f8f664"/>
<use href="#v72" fill="#f8f664"/>
<use href="#v73" fill="#f8a020"/>
<use href="#v74" fill="#f8f664"/>
<use href="#v75" fill="#f8f664"/>
<use href="#v76" fill="#f8f664"/>
<use href="#v77" fill="#cc5000"/>
<use href="#v78" fill="#f8a020"/>
<use href="#v79" fill="#f8c850"/>
<use href="#v80" fill="#f8f664"/>
<use href="#v81" fill="#f8f664"/>
<use href="#v82" fill="#f8f664"/>
<use href="#v83" fill="#f8f664"/>
<use href="#v84" fill="#f8c850"/>
<use href="#v85" fill="#f8f664"/>
<use href="#v86" fill="#f8f664"/>
<use href="#v87" fill="#f8c850"/>
<use href="#v88" fill="#f8f664"/>
<use href="#v89" fill="#f8f664"/>
<use href="#v90" fill="#f8f664"/>
<use href="#v91" fill="#f8f664"/>
<use href="#v92" fill="#f8f664"/>
<use href="#v93" fill="#f8f664"/>
<use href="#v94" fill="#f8c850"/>
<use href="#v95" fill="#f8a020"/>
<use href="#v96" fill="#f8a020"/>
<use href="#v97" fill="#f8f664"/>
<use href="#v98" fill="#cc5000"/>
<use href="#v99" fill="#f8c850"/>
<use href="#v100" fill="#f8a020"/>
<use href="#v101" fill="#f8f664"/>
<use href="#v102" fill="#f8f664"/>
<use href="#v103" fill="#cc5000"/>
<use href="#v104" fill="#f8a020"/>
<use href="#v105" fill="#f8f664"/>
<use href="#v106" fill="#f8f664"/>
<use href="#v107" fill="#f8c850"/>
<use href="#v108" fill="#f8c850"/>
<use href="#v109" fill="#f8f664"/>
<use href="#v110" fill="#f8f664"/>
<use href="#v111" fill="#f8f664"/>
<use href="#v112" fill="#f8c850"/>
<use href="#v113" fill="#cc5000"/>
<use href="#v114" fill="#f8c850"/>
<use href="#v115" fill="#f8c850"/>
<use href="#v116" fill="#f8f664"/>
<use href="#v117" fill="#f8f664"/>
<use href="#v118" fill="#f8f664"/>
<use href="#v119" fill="#f8f664"/>
<use href="#v120" fill="#f8f664"/>
<use href="#v121" fill="#f8c850"/>
<use href="#v122" fill="#cc5000"/>
<use href="#v123" fill="#cc5000"/>
<use href="#v124" fill="#f8f664"/>
<use href="#v125" fill="#f8f664"/>
<use href="#v126" fill="#f8f664"/>
<use href="#v127" fill="#f8a020"/>
<use href="#v128" fill="#f8c850"/>
<use href="#v129" fill="#f8f664"/>
<use href="#v130" fill="#f8f664"/>
<use href="#v131" fill="#f8f664"/>
<use href="#v132" fill="#f8f664"/>
<use href="#v133" fill="#f8f664"/>
<use href="#v134" fill="#f8f664"/>
<use href="#v135" fill="#f8a020"/>
<use href="#v136" fill="#f8f664"/>
<use href="#v137" fill="#f8f664"/>
<use href="#v138" fill="#f8a020"/>
<use href="#v139" fill="#f8c850"/>
<use href="#v140" fill="#f8c850"/>
<use href="#v141" fill="#f8f664"/>
<use href="#v142" fill="#f8a020"/>
<use href="#v143" fill="#f8f664"/>
<use href="#v144" fill="#f8f664"/>
<use href="#v145" fill="#f8f664"/>
<use href="#v146" fill="#f8c850"/>
<use href="#v147" fill="#f8f664"/>
<use href="#v148" fill="#f8f664"/>
<use href="#v149" fill="#f8f664"/>
<use href="#v150" fill="#f8a020"/>
<use href="#v151" fill="#f8f664"/>
<use href="#v152" fill="#f8f664"/>
<use href="#v153" fill="#f8c850"/>
<use href="#v154" fill="#f8f664"/>
<use href="#v155" fill="#f8c850"/>
<use href="#v156" fill="#f8c850"/>
<use href="#v157" fill="#f8f664"/>
<use href="#v158" fill="#f8f664"/>
<use href="#v159" fill="#f8a020"/>
<use href="#v160" fill="#f8f664"/>
<use href="#v161" fill="#f8f664"/>
<use href="#v162" fill="#f8f664"/>
<use href="#v163" fill="#f8f664"/>
<use href="#v164" fill="#f8f664"/>
<use href="#v165" fill="#f8c850"/>
<use href="#v166" fill="#f8f664"/>
<use href="#v167" fill="#f8c850"/>
<use href="#v168" fill="#f8f664"/>
<use href="#v169" fill="#f8c850"/>
<use href="#v170" fill="#f8a020"/>
<use href="#v171" fill="#f8c850"/>
<use href="#v172" fill="#f8f664"/>
<use href="#v173" fill="#f8f664"/>
<use href="#v174" fill="#cc5000"/>
<use href="#v175" fill="#f8f664"/>
<use href="#v176" fill="#f8f664"/>
<use href="#v177" fill="#f8f664"/>
<use href="#v178" fill="#f8f664"/>
<use href="#v179" fill="#f8a020"/>
<use href="#v180" fill="#f8f664"/>
<use href="#v181" fill="#f8f664"/>
<use href="#v182" fill="#cc5000"/>
<use href="#v183" fill="#f8c850"/>
<use href="#v184" fill="#f8f664"/>
<use href="#v185" fill="#f8f664"/>
<use href="#v186" fill="#f8f664"/>
<use href="#v187" fill="#cc5000"/>
<use href="#v188" fill="#f8f664"/>
<use href="#v189" fill="#f8f664"/>
<use href="#vb" stroke="rgba(150,140,40,0.28)"/>
<use href="#riv"/><use href="#isl" fill="#e8e070"/><use href="#spk"/>
</g><g transform="translate(-305.6,93.3)">
<use href="#v0" fill="#fde0cc"/>
<use href="#v1" fill="#f9b898"/>
<use href="#v2" fill="#fde3d1"/>
<use href="#v3" fill="#ef4530"/>
<use href="#v4" fill="#f48868"/>
<use href="#v5" fill="#f9b898"/>
<use href="#v6" fill="#ee3a28"/>
<use href="#v7" fill="#fde0cc"/>
<use href="#v8" fill="#fde0cc"/>
<use href="#v9" fill="#fde0cc"/>
<use href="#v10" fill="#f07050"/>
<use href="#v11" fill="#f05035"/>
<use href="#v12" fill="#fde0cc"/>
<use href="#v13" fill="#ee3a28"/>
<use href="#v14" fill="#e8201c"/>
<use href="#v15" fill="#fde0cc"/>
<use href="#v16" fill="#fde0cc"/>
<use href="#v17" fill="#e3101a"/>
<use href="#v18" fill="#e3101a"/>
<use href="#v19" fill="#fde0cc"/>
<use href="#v20" fill="#f05035"/>
<use href="#v21" fill="#f07050"/>
<use href="#v22" fill="#e4101a"/>
<use href="#v23" fill="#fde0cc"/>
<use href="#v24" fill="#f9b090"/>
<use href="#v25" fill="#fde0cc"/>
<use href="#v26" fill="#f9b898"/>
<use href="#v27" fill="#e41018"/>
<use href="#v28" fill="#e41018"/>
<use href="#v29" fill="#f9b898"/>
<use href="#v30" fill="#f8a080"/>
<use href="#v31" fill="#f9b090"/>
<use href="#v32" fill="#f48868"/>
<use href="#v33" fill="#fde0cc"/>
<use href="#v34" fill="#f07050"/>
<use href="#v35" fill="#e3101a"/>
<use href="#v36" fill="#fde0cc"/>
<use href="#v37" fill="#fde0cc"/>
<use href="#v38" fill="#f9b898"/>
<use href="#v39" fill="#e8201a"/>
<use href="#v40" fill="#f48060"/>
<use href="#v41" fill="#fde0cc"/>
<use href="#v42" fill="#e3101a"/>
<use href="#v43" fill="#e3101a"/>
<use href="#v44" fill="#e4101a"/>
<use href="#v45" fill="#f48060"/>
<use href="#v46" fill="#e8201c"/>
<use href="#v47" fill="#fde0cc"/>
<use href="#v48" fill="#f9b898"/>
<use href="#v49" fill="#fde0cc"/>
<use href="#v50" fill="#e3101a"/>
<use href="#v51" fill="#f8a080"/>
<use href="#v52" fill="#fde0cc"/>
<use href="#v53" fill="#fde0cc"/>
<use href="#v54" fill="#fde0cc"/>
<use href="#v55" fill="#e3101a"/>
<use href="#v56" fill="#fde0cc"/>
<use href="#v57" fill="#f48060"/>
<use href="#v58" fill="#f05035"/>
<use href="#v59" fill="#fde0cc"/>
<use href="#v60" fill="#f9b090"/>
<use href="#v61" fill="#f47a5a"/>
<use href="#v62" fill="#f05035"/>
<use href="#v63" fill="#f47a5a"/>
<use href="#v64" fill="#e3101a"/>
<use href="#v65" fill="#f48060"/>
<use href="#v66" fill="#fde0cc"/>
<use href="#v67" fill="#f05035"/>
<use href="#v68" fill="#e8201a"/>
<use href="#v69" fill="#fde0cc"/>
<use href="#v70" fill="#fde0cc"/>
<use href="#v71" fill="#f9b898"/>
<use href="#v72" fill="#e3101a"/>
<use href="#v73" fill="#fde0cc"/>
<use href="#v74" fill="#f9b898"/>
<use href="#v75" fill="#e4101a"/>
<use href="#v76" fill="#f48868"/>
<use href="#v77" fill="#fde0cc"/>
<use href="#v78" fill="#f9b898"/>
<use href="#v79" fill="#fde0cc"/>
<use href="#v80" fill="#f48868"/>
<use href="#v81" fill="#e3101a"/>
<use href="#v82" fill="#ef4530"/>
<use href="#v83" fill="#f9b898"/>
<use href="#v84" fill="#fde0cc"/>
<use href="#v85" fill="#e41018"/>
<use href="#v86" fill="#f9b898"/>
<use href="#v87" fill="#f48060"/>
<use href="#v88" fill="#f05a40"/>
<use href="#v89" fill="#f47a60"/>
<use href="#v90" fill="#f48868"/>
<use href="#v91" fill="#f05a40"/>
<use href="#v92" fill="#ef4530"/>
<use href="#v93" fill="#fde0cc"/>
<use href="#v94" fill="#fde0cc"/>
<use href="#v95" fill="#fde0cc"/>
<use href="#v96" fill="#fde0cc"/>
<use href="#v97" fill="#f47a5a"/>
<use href="#v98" fill="#fde0cc"/>
<use href="#v99" fill="#f8a080"/>
<use href="#v100" fill="#fde0cc"/>
<use href="#v101" fill="#f05035"/>
<use href="#v102" fill="#e3101a"/>
<use href="#v103" fill="#fde0cc"/>
<use href="#v104" fill="#f47a5a"/>
<use href="#v105" fill="#e4101a"/>
<use href="#v106" fill="#f9b898"/>
<use href="#v107" fill="#f48868"/>
<use href="#v108" fill="#f07050"/>
<use href="#v109" fill="#e3101a"/>
<use href="#v110" fill="#e3101a"/>
<use href="#v111" fill="#ef4530"/>
<use href="#v112" fill="#fde0cc"/>
<use href="#v113" fill="#fde0cc"/>
<use href="#v114" fill="#f07050"/>
<use href="#v115" fill="#fde0cc"/>
<use href="#v116" fill="#f48868"/>
<use href="#v117" fill="#f48868"/>
<use href="#v118" fill="#f05035"/>
<use href="#v119" fill="#f05035"/>
<use href="#v120" fill="#fbd4bc"/>
<use href="#v121" fill="#fde0cc"/>
<use href="#v122" fill="#fde0cc"/>
<use href="#v123" fill="#fde0cc"/>
<use href="#v124" fill="#f9b898"/>
<use href="#v125" fill="#ef4530"/>
<use href="#v126" fill="#e4101a"/>
<use href="#v127" fill="#f07050"/>
<use href="#v128" fill="#fde0cc"/>
<use href="#v129" fill="#f9b898"/>
<use href="#v130" fill="#e3101a"/>
<use href="#v131" fill="#f9b898"/>
<use href="#v132" fill="#f9b898"/>
<use href="#v133" fill="#f07050"/>
<use href="#v134" fill="#ef4530"/>
<use href="#v135" fill="#fde0cc"/>
<use href="#v136" fill="#f47a5a"/>
<use href="#v137" fill="#f9b898"/>
<use href="#v138" fill="#fde0cc"/>
<use href="#v139" fill="#fde0cc"/>
<use href="#v140" fill="#f07050"/>
<use href="#v141" fill="#ef4530"/>
<use href="#v142" fill="#fde0cc"/>
<use href="#v143" fill="#ef4530"/>
<use href="#v144" fill="#f9b898"/>
<use href="#v145" fill="#fde0cc"/>
<use href="#v146" fill="#fde0cc"/>
<use href="#v147" fill="#f05035"/>
<use href="#v148" fill="#ef4530"/>
<use href="#v149" fill="#e3101a"/>
<use href="#v150" fill="#f07050"/>
<use href="#v151" fill="#f48060"/>
<use href="#v152" fill="#e4101a"/>
<use href="#v153" fill="#fde0cc"/>
<use href="#v154" fill="#fde0cc"/>
<use href="#v155" fill="#fde0cc"/>
<use href="#v156" fill="#fde0cc"/>
<use href="#v157" fill="#f9b898"/>
<use href="#v158" fill="#f9b090"/>
<use href="#v159" fill="#fde0cc"/>
<use href="#v160" fill="#f9b898"/>
<use href="#v161" fill="#fde0cc"/>
<use href="#v162" fill="#f9b090"/>
<use href="#v163" fill="#fde0cc"/>
<use href="#v164" fill="#f9b898"/>
<use href="#v165" fill="#fde0cc"/>
<use href="#v166" fill="#e3101a"/>
<use href="#v167" fill="#fde0cc"/>
<use href="#v168" fill="#f9b898"/>
<use href="#v169" fill="#f07050"/>
<use href="#v170" fill="#f9b898"/>
<use href="#v171" fill="#fde0cc"/>
<use href="#v172" fill="#f05035"/>
<use href="#v173" fill="#e8201c"/>
<use href="#v174" fill="#fde0cc"/>
<use href="#v175" fill="#e4101a"/>
<use href="#v176" fill="#ee3a28"/>
<use href="#v177" fill="#f07050"/>
<use href="#v178" fill="#e3101a"/>
<use href="#v179" fill="#fde0cc"/>
<use href="#v180" fill="#f9b898"/>
<use href="#v181" fill="#f05035"/>
<use href="#v182" fill="#fde0cc"/>
<use href="#v183" fill="#fde0cc"/>
<use href="#v184" fill="#e3101a"/>
<use href="#v185" fill="#f48868"/>
<use href="#v186" fill="#f48060"/>
<use href="#v187" fill="#fde0cc"/>
<use href="#v188" fill="#ee3a28"/>
<use href="#v189" fill="#f07050"/>
<use href="#vb" stroke="rgba(255,255,255,0.22)"/>
<use href="#riv"/><use href="#isl" fill="#e8c0b0"/><use href="#spk"/>
</g><g transform="translate(-207.1,93.6)">
<use href="#v0" fill="#20b070"/>
<use href="#v1" fill="#f0f080"/>
<use href="#v2" fill="#20b070"/>
<use href="#v3" fill="#101080"/>
<use href="#v4" fill="#20b070"/>
<use href="#v5" fill="#1a70b0"/>
<use href="#v6" fill="#30f030"/>
<use href="#v7" fill="#20b070"/>
<use href="#v8" fill="#30f030"/>
<use href="#v9" fill="#20b070"/>
<use href="#v10" fill="#30f030"/>
<use href="#v11" fill="#1a70b0"/>
<use href="#v12" fill="#20b070"/>
<use href="#v13" fill="#30f030"/>
<use href="#v14" fill="#1a70b0"/>
<use href="#v15" fill="#30f030"/>
<use href="#v16" fill="#20b070"/>
<use href="#v17" fill="#1a70b0"/>
<use href="#v18" fill="#101080"/>
<use href="#v19" fill="#30f030"/>
<use href="#v20" fill="#20b070"/>
<use href="#v21" fill="#1a70b0"/>
<use href="#v22" fill="#101080"/>
<use href="#v23" fill="#20b070"/>
<use href="#v24" fill="#20b070"/>
<use href="#v25" fill="#20b070"/>
<use href="#v26" fill="#30f030"/>
<use href="#v27" fill="#1a70b0"/>
<use href="#v28" fill="#1a70b0"/>
<use href="#v29" fill="#20b070"/>
<use href="#v30" fill="#1a70b0"/>
<use href="#v31" fill="#30f030"/>
<use href="#v32" fill="#20b070"/>
<use href="#v33" fill="#20b070"/>
<use href="#v34" fill="#30f030"/>
<use href="#v35" fill="#101080"/>
<use href="#v36" fill="#30f030"/>
<use href="#v37" fill="#30f030"/>
<use href="#v38" fill="#30f030"/>
<use href="#v39" fill="#1a70b0"/>
<use href="#v40" fill="#1a70b0"/>
<use href="#v41" fill="#30f030"/>
<use href="#v42" fill="#101080"/>
<use href="#v43" fill="#1a70b0"/>
<use href="#v44" fill="#30f030"/>
<use href="#v45" fill="#101080"/>
<use href="#v46" fill="#1a70b0"/>
<use href="#v47" fill="#30f030"/>
<use href="#v48" fill="#1a70b0"/>
<use href="#v49" fill="#20b070"/>
<use href="#v50" fill="#1a70b0"/>
<use href="#v51" fill="#1a70b0"/>
<use href="#v52" fill="#30f030"/>
<use href="#v53" fill="#30f030"/>
<use href="#v54" fill="#20b070"/>
<use href="#v55" fill="#1a70b0"/>
<use href="#v56" fill="#30f030"/>
<use href="#v57" fill="#101080"/>
<use href="#v58" fill="#20b070"/>
<use href="#v59" fill="#1a70b0"/>
<use href="#v60" fill="#20b070"/>
<use href="#v61" fill="#101080"/>
<use href="#v62" fill="#20b070"/>
<use href="#v63" fill="#101080"/>
<use href="#v64" fill="#101080"/>
<use href="#v65" fill="#101080"/>
<use href="#v66" fill="#f0f080"/>
<use href="#v67" fill="#20b070"/>
<use href="#v68" fill="#1a70b0"/>
<use href="#v69" fill="#30f030"/>
<use href="#v70" fill="#f0f080"/>
<use href="#v71" fill="#20b070"/>
<use href="#v72" fill="#101080"/>
<use href="#v73" fill="#20b070"/>
<use href="#v74" fill="#20b070"/>
<use href="#v75" fill="#101080"/>
<use href="#v76" fill="#30f030"/>
<use href="#v77" fill="#20b070"/>
<use href="#v78" fill="#1a70b0"/>
<use href="#v79" fill="#30f030"/>
<use href="#v80" fill="#20b070"/>
<use href="#v81" fill="#30f030"/>
<use href="#v82" fill="#30f030"/>
<use href="#v83" fill="#1a70b0"/>
<use href="#v84" fill="#20b070"/>
<use href="#v85" fill="#1a70b0"/>
<use href="#v86" fill="#b6f068"/>
<use href="#v87" fill="#1a70b0"/>
<use href="#v88" fill="#101080"/>
<use href="#v89" fill="#101080"/>
<use href="#v90" fill="#20b070"/>
<use href="#v91" fill="#101080"/>
<use href="#v92" fill="#101080"/>
<use href="#v93" fill="#f0f080"/>
<use href="#v94" fill="#30f030"/>
<use href="#v95" fill="#30f030"/>
<use href="#v96" fill="#20b070"/>
<use href="#v97" fill="#1a70b0"/>
<use href="#v98" fill="#20b070"/>
<use href="#v99" fill="#1a70b0"/>
<use href="#v100" fill="#30f030"/>
<use href="#v101" fill="#20b070"/>
<use href="#v102" fill="#1a70b0"/>
<use href="#v103" fill="#20b070"/>
<use href="#v104" fill="#20b070"/>
<use href="#v105" fill="#101080"/>
<use href="#v106" fill="#1a70b0"/>
<use href="#v107" fill="#20b070"/>
<use href="#v108" fill="#30f030"/>
<use href="#v109" fill="#1a70b0"/>
<use href="#v110" fill="#1a70b0"/>
<use href="#v111" fill="#1a70b0"/>
<use href="#v112" fill="#1a70b0"/>
<use href="#v113" fill="#20b070"/>
<use href="#v114" fill="#1a70b0"/>
<use href="#v115" fill="#30f030"/>
<use href="#v116" fill="#20b070"/>
<use href="#v117" fill="#20b070"/>
<use href="#v118" fill="#20b070"/>
<use href="#v119" fill="#30f030"/>
<use href="#v120" fill="#20b070"/>
<use href="#v121" fill="#30f030"/>
<use href="#v122" fill="#30f030"/>
<use href="#v123" fill="#20b070"/>
<use href="#v124" fill="#20b070"/>
<use href="#v125" fill="#20b070"/>
<use href="#v126" fill="#101080"/>
<use href="#v127" fill="#30f030"/>
<use href="#v128" fill="#20b070"/>
<use href="#v129" fill="#30f030"/>
<use href="#v130" fill="#30f030"/>
<use href="#v131" fill="#f0f080"/>
<use href="#v132" fill="#30f030"/>
<use href="#v133" fill="#30f030"/>
<use href="#v134" fill="#20b070"/>
<use href="#v135" fill="#20b070"/>
<use href="#v136" fill="#101080"/>
<use href="#v137" fill="#20b070"/>
<use href="#v138" fill="#20b070"/>
<use href="#v139" fill="#30f030"/>
<use href="#v140" fill="#30f030"/>
<use href="#v141" fill="#101080"/>
<use href="#v142" fill="#20b070"/>
<use href="#v143" fill="#20b070"/>
<use href="#v144" fill="#30f030"/>
<use href="#v145" fill="#30f030"/>
<use href="#v146" fill="#30f030"/>
<use href="#v147" fill="#1a70b0"/>
<use href="#v148" fill="#101080"/>
<use href="#v149" fill="#20b070"/>
<use href="#v150" fill="#30f030"/>
<use href="#v151" fill="#1a70b0"/>
<use href="#v152" fill="#101080"/>
<use href="#v153" fill="#20b070"/>
<use href="#v154" fill="#20b070"/>
<use href="#v155" fill="#20b070"/>
<use href="#v156" fill="#1a70b0"/>
<use href="#v157" fill="#1a70b0"/>
<use href="#v158" fill="#20b070"/>
<use href="#v159" fill="#20b070"/>
<use href="#v160" fill="#20b070"/>
<use href="#v161" fill="#30f030"/>
<use href="#v162" fill="#101080"/>
<use href="#v163" fill="#30f030"/>
<use href="#v164" fill="#20b070"/>
<use href="#v165" fill="#30f030"/>
<use href="#v166" fill="#30f030"/>
<use href="#v167" fill="#20b070"/>
<use href="#v168" fill="#20b070"/>
<use href="#v169" fill="#30f030"/>
<use href="#v170" fill="#30f030"/>
<use href="#v171" fill="#30f030"/>
<use href="#v172" fill="#20b070"/>
<use href="#v173" fill="#20b070"/>
<use href="#v174" fill="#20b070"/>
<use href="#v175" fill="#101080"/>
<use href="#v176" fill="#30f030"/>
<use href="#v177" fill="#30f030"/>
<use href="#v178" fill="#20b070"/>
<use href="#v179" fill="#30f030"/>
<use href="#v180" fill="#f0f080"/>
<use href="#v181" fill="#20b070"/>
<use href="#v182" fill="#30f030"/>
<use href="#v183" fill="#20b070"/>
<use href="#v184" fill="#30f030"/>
<use href="#v185" fill="#20b070"/>
<use href="#v186" fill="#101080"/>
<use href="#v187" fill="#30f030"/>
<use href="#v188" fill="#20b070"/>
<use href="#v189" fill="#30f030"/>
<use href="#vb" stroke="rgba(255,255,255,0.15)"/>
<use href="#riv"/><use href="#isl" fill="#d8e070"/><use href="#spk"/>
</g><g transform="translate(-102.6,93.1)">
<use href="#v0" fill="#148a4e"/>
<use href="#v1" fill="#cdecd9"/>
<use href="#v2" fill="#4eae7c"/>
<use href="#v3" fill="#005c2c"/>
<use href="#v4" fill="#148a4e"/>
<use href="#v5" fill="#148a4e"/>
<use href="#v6" fill="#4eae7c"/>
<use href="#v7" fill="#005c2c"/>
<use href="#v8" fill="#148a4e"/>
<use href="#v9" fill="#005c2c"/>
<use href="#v10" fill="#4eae7c"/>
<use href="#v11" fill="#148a4e"/>
<use href="#v12" fill="#148a4e"/>
<use href="#v13" fill="#4eae7c"/>
<use href="#v14" fill="#148a4e"/>
<use href="#v15" fill="#148a4e"/>
<use href="#v16" fill="#148a4e"/>
<use href="#v17" fill="#005c2c"/>
<use href="#v18" fill="#8ccca8"/>
<use href="#v19" fill="#4eae7c"/>
<use href="#v20" fill="#92d2b2"/>
<use href="#v21" fill="#148a4e"/>
<use href="#v22" fill="#005c2c"/>
<use href="#v23" fill="#148a4e"/>
<use href="#v24" fill="#92d2b2"/>
<use href="#v25" fill="#4eae7c"/>
<use href="#v26" fill="#cdecd9"/>
<use href="#v27" fill="#148a4e"/>
<use href="#v28" fill="#148a4e"/>
<use href="#v29" fill="#cdecd9"/>
<use href="#v30" fill="#148a4e"/>
<use href="#v31" fill="#148a4e"/>
<use href="#v32" fill="#92d2b2"/>
<use href="#v33" fill="#148a4e"/>
<use href="#v34" fill="#148a4e"/>
<use href="#v35" fill="#005c2c"/>
<use href="#v36" fill="#4eae7c"/>
<use href="#v37" fill="#4eae7c"/>
<use href="#v38" fill="#cdecd9"/>
<use href="#v39" fill="#148a4e"/>
<use href="#v40" fill="#005c2c"/>
<use href="#v41" fill="#148a4e"/>
<use href="#v42" fill="#005c2c"/>
<use href="#v43" fill="#148a4e"/>
<use href="#v44" fill="#005c2c"/>
<use href="#v45" fill="#005c2c"/>
<use href="#v46" fill="#148a4e"/>
<use href="#v47" fill="#148a4e"/>
<use href="#v48" fill="#148a4e"/>
<use href="#v49" fill="#148a4e"/>
<use href="#v50" fill="#148a4e"/>
<use href="#v51" fill="#148a4e"/>
<use href="#v52" fill="#148a4e"/>
<use href="#v53" fill="#4eae7c"/>
<use href="#v54" fill="#148a4e"/>
<use href="#v55" fill="#005c2c"/>
<use href="#v56" fill="#92d2b2"/>
<use href="#v57" fill="#005c2c"/>
<use href="#v58" fill="#cdecd9"/>
<use href="#v59" fill="#92d2b2"/>
<use href="#v60" fill="#92d2b2"/>
<use href="#v61" fill="#92d2b2"/>
<use href="#v62" fill="#4eae7c"/>
<use href="#v63" fill="#92d2b2"/>
<use href="#v64" fill="#005c2c"/>
<use href="#v65" fill="#005c2c"/>
<use href="#v66" fill="#4eae7c"/>
<use href="#v67" fill="#148a4e"/>
<use href="#v68" fill="#148a4e"/>
<use href="#v69" fill="#4eae7c"/>
<use href="#v70" fill="#148a4e"/>
<use href="#v71" fill="#cdecd9"/>
<use href="#v72" fill="#005c2c"/>
<use href="#v73" fill="#4eae7c"/>
<use href="#v74" fill="#cdecd9"/>
<use href="#v75" fill="#3e9d6b"/>
<use href="#v76" fill="#92d2b2"/>
<use href="#v77" fill="#005c2c"/>
<use href="#v78" fill="#148a4e"/>
<use href="#v79" fill="#92d2b2"/>
<use href="#v80" fill="#92d2b2"/>
<use href="#v81" fill="#8ccca8"/>
<use href="#v82" fill="#148a4e"/>
<use href="#v83" fill="#148a4e"/>
<use href="#v84" fill="#148a4e"/>
<use href="#v85" fill="#148a4e"/>
<use href="#v86" fill="#cdecd9"/>
<use href="#v87" fill="#005c2c"/>
<use href="#v88" fill="#005c2c"/>
<use href="#v89" fill="#005c2c"/>
<use href="#v90" fill="#148a4e"/>
<use href="#v91" fill="#148a4e"/>
<use href="#v92" fill="#005c2c"/>
<use href="#v93" fill="#148a4e"/>
<use href="#v94" fill="#148a4e"/>
<use href="#v95" fill="#148a4e"/>
<use href="#v96" fill="#148a4e"/>
<use href="#v97" fill="#4eae7c"/>
<use href="#v98" fill="#005c2c"/>
<use href="#v99" fill="#4eae7c"/>
<use href="#v100" fill="#92d2b2"/>
<use href="#v101" fill="#148a4e"/>
<use href="#v102" fill="#005c2c"/>
<use href="#v103" fill="#005c2c"/>
<use href="#v104" fill="#148a4e"/>
<use href="#v105" fill="#005c2c"/>
<use href="#v106" fill="#148a4e"/>
<use href="#v107" fill="#148a4e"/>
<use href="#v108" fill="#148a4e"/>
<use href="#v109" fill="#8ccca8"/>
<use href="#v110" fill="#177443"/>
<use href="#v111" fill="#4eae7c"/>
<use href="#v112" fill="#4eae7c"/>
<use href="#v113" fill="#005c2c"/>
<use href="#v114" fill="#148a4e"/>
<use href="#v115" fill="#148a4e"/>
<use href="#v116" fill="#92d2b2"/>
<use href="#v117" fill="#92d2b2"/>
<use href="#v118" fill="#cdecd9"/>
<use href="#v119" fill="#92d2b2"/>
<use href="#v120" fill="#cdecd9"/>
<use href="#v121" fill="#4eae7c"/>
<use href="#v122" fill="#92d2b2"/>
<use href="#v123" fill="#148a4e"/>
<use href="#v124" fill="#cdecd9"/>
<use href="#v125" fill="#148a4e"/>
<use href="#v126" fill="#92d2b2"/>
<use href="#v127" fill="#148a4e"/>
<use href="#v128" fill="#148a4e"/>
<use href="#v129" fill="#cdecd9"/>
<use href="#v130" fill="#4eae7c"/>
<use href="#v131" fill="#cdecd9"/>
<use href="#v132" fill="#cdecd9"/>
<use href="#v133" fill="#148a4e"/>
<use href="#v134" fill="#148a4e"/>
<use href="#v135" fill="#92d2b2"/>
<use href="#v136" fill="#92d2b2"/>
<use href="#v137" fill="#cdecd9"/>
<use href="#v138" fill="#148a4e"/>
<use href="#v139" fill="#4eae7c"/>
<use href="#v140" fill="#4eae7c"/>
<use href="#v141" fill="#005c2c"/>
<use href="#v142" fill="#148a4e"/>
<use href="#v143" fill="#148a4e"/>
<use href="#v144" fill="#148a4e"/>
<use href="#v145" fill="#148a4e"/>
<use href="#v146" fill="#4eae7c"/>
<use href="#v147" fill="#148a4e"/>
<use href="#v148" fill="#005c2c"/>
<use href="#v149" fill="#8ccca8"/>
<use href="#v150" fill="#148a4e"/>
<use href="#v151" fill="#148a4e"/>
<use href="#v152" fill="#005c2c"/>
<use href="#v153" fill="#148a4e"/>
<use href="#v154" fill="#148a4e"/>
<use href="#v155" fill="#4eae7c"/>
<use href="#v156" fill="#148a4e"/>
<use href="#v157" fill="#148a4e"/>
<use href="#v158" fill="#92d2b2"/>
<use href="#v159" fill="#148a4e"/>
<use href="#v160" fill="#4eae7c"/>
<use href="#v161" fill="#148a4e"/>
<use href="#v162" fill="#92d2b2"/>
<use href="#v163" fill="#148a4e"/>
<use href="#v164" fill="#cdecd9"/>
<use href="#v165" fill="#148a4e"/>
<use href="#v166" fill="#8ccca8"/>
<use href="#v167" fill="#005c2c"/>
<use href="#v168" fill="#cdecd9"/>
<use href="#v169" fill="#4eae7c"/>
<use href="#v170" fill="#148a4e"/>
<use href="#v171" fill="#148a4e"/>
<use href="#v172" fill="#cdecd9"/>
<use href="#v173" fill="#148a4e"/>
<use href="#v174" fill="#005c2c"/>
<use href="#v175" fill="#4eae7c"/>
<use href="#v176" fill="#4eae7c"/>
<use href="#v177" fill="#4eae7c"/>
<use href="#v178" fill="#8ccca8"/>
<use href="#v179" fill="#148a4e"/>
<use href="#v180" fill="#cdecd9"/>
<use href="#v181" fill="#148a4e"/>
<use href="#v182" fill="#148a4e"/>
<use href="#v183" fill="#148a4e"/>
<use href="#v184" fill="#4eae7c"/>
<use href="#v185" fill="#4eae7c"/>
<use href="#v186" fill="#005c2c"/>
<use href="#v187" fill="#005c2c"/>
<use href="#v188" fill="#4eae7c"/>
<use href="#v189" fill="#68bc91"/>
<use href="#vb" stroke="rgba(255,255,255,0.2)"/>
<use href="#riv"/><use href="#isl" fill="#b0d8c0"/><use href="#spk"/>
</g><g transform="translate(0.6,93.3)">
<use href="#v0" fill="#2090e8"/>
<use href="#v1" fill="#50b8f0"/>
<use href="#v2" fill="#2090e8"/>
<use href="#v3" fill="#1848d0"/>
<use href="#v4" fill="#1848d0"/>
<use href="#v5" fill="#000090"/>
<use href="#v6" fill="#2090e8"/>
<use href="#v7" fill="#000090"/>
<use href="#v8" fill="#2090e8"/>
<use href="#v9" fill="#000090"/>
<use href="#v10" fill="#50b8f0"/>
<use href="#v11" fill="#2090e8"/>
<use href="#v12" fill="#2090e8"/>
<use href="#v13" fill="#2090e8"/>
<use href="#v14" fill="#2090e8"/>
<use href="#v15" fill="#50b8f0"/>
<use href="#v16" fill="#50b8f0"/>
<use href="#v17" fill="#2090e8"/>
<use href="#v18" fill="#50b8f0"/>
<use href="#v19" fill="#2090e8"/>
<use href="#v20" fill="#50b8f0"/>
<use href="#v21" fill="#1848d0"/>
<use href="#v22" fill="#000090"/>
<use href="#v23" fill="#2090e8"/>
<use href="#v24" fill="#000090"/>
<use href="#v25" fill="#50b8f0"/>
<use href="#v26" fill="#50b8f0"/>
<use href="#v27" fill="#1848d0"/>
<use href="#v28" fill="#2090e8"/>
<use href="#v29" fill="#50b8f0"/>
<use href="#v30" fill="#2090e8"/>
<use href="#v31" fill="#50b8f0"/>
<use href="#v32" fill="#1848d0"/>
<use href="#v33" fill="#2090e8"/>
<use href="#v34" fill="#1848d0"/>
<use href="#v35" fill="#2090e8"/>
<use href="#v36" fill="#2090e8"/>
<use href="#v37" fill="#50b8f0"/>
<use href="#v38" fill="#50b8f0"/>
<use href="#v39" fill="#1848d0"/>
<use href="#v40" fill="#000090"/>
<use href="#v41" fill="#50b8f0"/>
<use href="#v42" fill="#2090e8"/>
<use href="#v43" fill="#2090e8"/>
<use href="#v44" fill="#000090"/>
<use href="#v45" fill="#1848d0"/>
<use href="#v46" fill="#2090e8"/>
<use href="#v47" fill="#50b8f0"/>
<use href="#v48" fill="#000090"/>
<use href="#v49" fill="#1848d0"/>
<use href="#v50" fill="#2090e8"/>
<use href="#v51" fill="#2090e8"/>
<use href="#v52" fill="#a0e8f0"/>
<use href="#v53" fill="#1848d0"/>
<use href="#v54" fill="#50b8f0"/>
<use href="#v55" fill="#2090e8"/>
<use href="#v56" fill="#50b8f0"/>
<use href="#v57" fill="#000090"/>
<use href="#v58" fill="#2090e8"/>
<use href="#v59" fill="#1848d0"/>
<use href="#v60" fill="#50b8f0"/>
<use href="#v61" fill="#000090"/>
<use href="#v62" fill="#50b8f0"/>
<use href="#v63" fill="#000090"/>
<use href="#v64" fill="#2090e8"/>
<use href="#v65" fill="#1848d0"/>
<use href="#v66" fill="#a0e8f0"/>
<use href="#v67" fill="#50b8f0"/>
<use href="#v68" fill="#1848d0"/>
<use href="#v69" fill="#2090e8"/>
<use href="#v70" fill="#50b8f0"/>
<use href="#v71" fill="#50b8f0"/>
<use href="#v72" fill="#2090e8"/>
<use href="#v73" fill="#50b8f0"/>
<use href="#v74" fill="#50b8f0"/>
<use href="#v75" fill="#000090"/>
<use href="#v76" fill="#50b8f0"/>
<use href="#v77" fill="#000090"/>
<use href="#v78" fill="#1848d0"/>
<use href="#v79" fill="#2090e8"/>
<use href="#v80" fill="#1848d0"/>
<use href="#v81" fill="#50b8f0"/>
<use href="#v82" fill="#2090e8"/>
<use href="#v83" fill="#000090"/>
<use href="#v84" fill="#50b8f0"/>
<use href="#v85" fill="#2090e8"/>
<use href="#v86" fill="#50b8f0"/>
<use href="#v87" fill="#000090"/>
<use href="#v88" fill="#1848d0"/>
<use href="#v89" fill="#1848d0"/>
<use href="#v90" fill="#2090e8"/>
<use href="#v91" fill="#1848d0"/>
<use href="#v92" fill="#1848d0"/>
<use href="#v93" fill="#2090e8"/>
<use href="#v94" fill="#50b8f0"/>
<use href="#v95" fill="#2090e8"/>
<use href="#v96" fill="#2090e8"/>
<use href="#v97" fill="#2090e8"/>
<use href="#v98" fill="#000090"/>
<use href="#v99" fill="#2090e8"/>
<use href="#v100" fill="#50b8f0"/>
<use href="#v101" fill="#2090e8"/>
<use href="#v102" fill="#2090e8"/>
<use href="#v103" fill="#000090"/>
<use href="#v104" fill="#1848d0"/>
<use href="#v105" fill="#000090"/>
<use href="#v106" fill="#000090"/>
<use href="#v107" fill="#1848d0"/>
<use href="#v108" fill="#1848d0"/>
<use href="#v109" fill="#2090e8"/>
<use href="#v110" fill="#2090e8"/>
<use href="#v111" fill="#1848d0"/>
<use href="#v112" fill="#2090e8"/>
<use href="#v113" fill="#000090"/>
<use href="#v114" fill="#1848d0"/>
<use href="#v115" fill="#50b8f0"/>
<use href="#v116" fill="#50b8f0"/>
<use href="#v117" fill="#1848d0"/>
<use href="#v118" fill="#50b8f0"/>
<use href="#v119" fill="#50b8f0"/>
<use href="#v120" fill="#2090e8"/>
<use href="#v121" fill="#50b8f0"/>
<use href="#v122" fill="#50b8f0"/>
<use href="#v123" fill="#1848d0"/>
<use href="#v124" fill="#50b8f0"/>
<use href="#v125" fill="#2090e8"/>
<use href="#v126" fill="#000090"/>
<use href="#v127" fill="#1848d0"/>
<use href="#v128" fill="#50b8f0"/>
<use href="#v129" fill="#50b8f0"/>
<use href="#v130" fill="#50b8f0"/>
<use href="#v131" fill="#50b8f0"/>
<use href="#v132" fill="#50b8f0"/>
<use href="#v133" fill="#1848d0"/>
<use href="#v134" fill="#2090e8"/>
<use href="#v135" fill="#2090e8"/>
<use href="#v136" fill="#1356c4"/>
<use href="#v137" fill="#50b8f0"/>
<use href="#v138" fill="#1848d0"/>
<use href="#v139" fill="#1848d0"/>
<use href="#v140" fill="#50b8f0"/>
<use href="#v141" fill="#1848d0"/>
<use href="#v142" fill="#1848d0"/>
<use href="#v143" fill="#2090e8"/>
<use href="#v144" fill="#50b8f0"/>
<use href="#v145" fill="#2090e8"/>
<use href="#v146" fill="#2090e8"/>
<use href="#v147" fill="#2090e8"/>
<use href="#v148" fill="#1848d0"/>
<use href="#v149" fill="#50b8f0"/>
<use href="#v150" fill="#1848d0"/>
<use href="#v151" fill="#1848d0"/>
<use href="#v152" fill="#000090"/>
<use href="#v153" fill="#50b8f0"/>
<use href="#v154" fill="#2090e8"/>
<use href="#v155" fill="#50b8f0"/>
<use href="#v156" fill="#2090e8"/>
<use href="#v157" fill="#000090"/>
<use href="#v158" fill="#1848d0"/>
<use href="#v159" fill="#1848d0"/>
<use href="#v160" fill="#50b8f0"/>
<use href="#v161" fill="#50b8f0"/>
<use href="#v162" fill="#50b8f0"/>
<use href="#v163" fill="#2090e8"/>
<use href="#v164" fill="#2090e8"/>
<use href="#v165" fill="#50b8f0"/>
<use href="#v166" fill="#50b8f0"/>
<use href="#v167" fill="#2090e8"/>
<use href="#v168" fill="#50b8f0"/>
<use href="#v169" fill="#50b8f0"/>
<use href="#v170" fill="#1848d0"/>
<use href="#v171" fill="#2090e8"/>
<use href="#v172" fill="#50b8f0"/>
<use href="#v173" fill="#50b8f0"/>
<use href="#v174" fill="#000090"/>
<use href="#v175" fill="#2090e8"/>
<use href="#v176" fill="#2090e8"/>
<use href="#v177" fill="#1848d0"/>
<use href="#v178" fill="#50b8f0"/>
<use href="#v179" fill="#50b8f0"/>
<use href="#v180" fill="#50b8f0"/>
<use href="#v181" fill="#50b8f0"/>
<use href="#v182" fill="#2090e8"/>
<use href="#v183" fill="#2090e8"/>
<use href="#v184" fill="#2090e8"/>
<use href="#v185" fill="#2090e8"/>
<use href="#v186" fill="#1848d0"/>
<use href="#v187" fill="#000090"/>
<use href="#v188" fill="#2090e8"/>
<use href="#v189" fill="#1848d0"/>
<use href="#vb" stroke="rgba(255,255,255,0.18)"/>
<use href="#riv"/><use href="#isl" fill="#90d0e8"/><use href="#spk"/>
</g><g transform="translate(108.6,93.8)">
<use href="#v0" fill="#f8c850"/>
<use href="#v1" fill="#f8f664"/>
<use href="#v2" fill="#f8f664"/>
<use href="#v3" fill="#f8c850"/>
<use href="#v4" fill="#f8f664"/>
<use href="#v5" fill="#f8f664"/>
<use href="#v6" fill="#f8f664"/>
<use href="#v7" fill="#800010"/>
<use href="#v8" fill="#cc5000"/>
<use href="#v9" fill="#f8c850"/>
<use href="#v10" fill="#f8c850"/>
<use href="#v11" fill="#f8f664"/>
<use href="#v12" fill="#f8f664"/>
<use href="#v13" fill="#f8f664"/>
<use href="#v14" fill="#f8f664"/>
<use href="#v15" fill="#f8a020"/>
<use href="#v16" fill="#f8c850"/>
<use href="#v17" fill="#f8f664"/>
<use href="#v18" fill="#f8f664"/>
<use href="#v19" fill="#f8a020"/>
<use href="#v20" fill="#f8f664"/>
<use href="#v21" fill="#f8c850"/>
<use href="#v22" fill="#f8f664"/>
<use href="#v23" fill="#800010"/>
<use href="#v24" fill="#f8c850"/>
<use href="#v25" fill="#cc5000"/>
<use href="#v26" fill="#f8f664"/>
<use href="#v27" fill="#f8f664"/>
<use href="#v28" fill="#f8f664"/>
<use href="#v29" fill="#f8f664"/>
<use href="#v30" fill="#f8a020"/>
<use href="#v31" fill="#f8f664"/>
<use href="#v32" fill="#f8f664"/>
<use href="#v33" fill="#800010"/>
<use href="#v34" fill="#f8c850"/>
<use href="#v35" fill="#f8f664"/>
<use href="#v36" fill="#f8a020"/>
<use href="#v37" fill="#f8c850"/>
<use href="#v38" fill="#f8f664"/>
<use href="#v39" fill="#f8c850"/>
<use href="#v40" fill="#cc5000"/>
<use href="#v41" fill="#f8a020"/>
<use href="#v42" fill="#f8f664"/>
<use href="#v43" fill="#f8f664"/>
<use href="#v44" fill="#f8f664"/>
<use href="#v45" fill="#800010"/>
<use href="#v46" fill="#f8f664"/>
<use href="#v47" fill="#f8a020"/>
<use href="#v48" fill="#cc5000"/>
<use href="#v49" fill="#f8f664"/>
<use href="#v50" fill="#f8f664"/>
<use href="#v51" fill="#f8c850"/>
<use href="#v52" fill="#f8a020"/>
<use href="#v53" fill="#f8a020"/>
<use href="#v54" fill="#cc5000"/>
<use href="#v55" fill="#f8f664"/>
<use href="#v56" fill="#f8c850"/>
<use href="#v57" fill="#cc5000"/>
<use href="#v58" fill="#f8f664"/>
<use href="#v59" fill="#f8c850"/>
<use href="#v60" fill="#f8f664"/>
<use href="#v61" fill="#cc5000"/>
<use href="#v62" fill="#f8f664"/>
<use href="#v63" fill="#f8c850"/>
<use href="#v64" fill="#f8f664"/>
<use href="#v65" fill="#cc5000"/>
<use href="#v66" fill="#f8a020"/>
<use href="#v67" fill="#f8f664"/>
<use href="#v68" fill="#f8c850"/>
<use href="#v69" fill="#f8c850"/>
<use href="#v70" fill="#f8c850"/>
<use href="#v71" fill="#f8f664"/>
<use href="#v72" fill="#f8f664"/>
<use href="#v73" fill="#f8c850"/>
<use href="#v74" fill="#f8f664"/>
<use href="#v75" fill="#f8c850"/>
<use href="#v76" fill="#f8f664"/>
<use href="#v77" fill="#800010"/>
<use href="#v78" fill="#cc5000"/>
<use href="#v79" fill="#f8a020"/>
<use href="#v80" fill="#f8f664"/>
<use href="#v81" fill="#f8f664"/>
<use href="#v82" fill="#f8f664"/>
<use href="#v83" fill="#f8f664"/>
<use href="#v84" fill="#f8c850"/>
<use href="#v85" fill="#f8f664"/>
<use href="#v86" fill="#f8f664"/>
<use href="#v87" fill="#cc5000"/>
<use href="#v88" fill="#f8c850"/>
<use href="#v89" fill="#f8f664"/>
<use href="#v90" fill="#f8f664"/>
<use href="#v91" fill="#f8c850"/>
<use href="#v92" fill="#f8c850"/>
<use href="#v93" fill="#f8a020"/>
<use href="#v94" fill="#f8c850"/>
<use href="#v95" fill="#f8c850"/>
<use href="#v96" fill="#f8a020"/>
<use href="#v97" fill="#f8f664"/>
<use href="#v98" fill="#cc5000"/>
<use href="#v99" fill="#f8a020"/>
<use href="#v100" fill="#f8a020"/>
<use href="#v101" fill="#f8f664"/>
<use href="#v102" fill="#f8f664"/>
<use href="#v103" fill="#800010"/>
<use href="#v104" fill="#800010"/>
<use href="#v105" fill="#f8f664"/>
<use href="#v106" fill="#f8f664"/>
<use href="#v107" fill="#f8f664"/>
<use href="#v108" fill="#f8e85d"/>
<use href="#v109" fill="#f8f664"/>
<use href="#v110" fill="#f8f664"/>
<use href="#v111" fill="#f8c850"/>
<use href="#v112" fill="#f8a020"/>
<use href="#v113" fill="#800010"/>
<use href="#v114" fill="#f8c850"/>
<use href="#v115" fill="#f8a020"/>
<use href="#v116" fill="#f8f664"/>
<use href="#v117" fill="#f8f664"/>
<use href="#v118" fill="#f8f664"/>
<use href="#v119" fill="#f8f664"/>
<use href="#v120" fill="#f8f664"/>
<use href="#v121" fill="#f8c850"/>
<use href="#v122" fill="#800010"/>
<use href="#v123" fill="#800010"/>
<use href="#v124" fill="#f8f664"/>
<use href="#v125" fill="#f8f664"/>
<use href="#v126" fill="#f8c850"/>
<use href="#v127" fill="#f8f664"/>
<use href="#v128" fill="#f8c850"/>
<use href="#v129" fill="#f8f664"/>
<use href="#v130" fill="#f8f664"/>
<use href="#v131" fill="#f8f664"/>
<use href="#v132" fill="#f8f664"/>
<use href="#v133" fill="#f8f664"/>
<use href="#v134" fill="#f8f664"/>
<use href="#v135" fill="#f8a020"/>
<use href="#v136" fill="#f8c850"/>
<use href="#v137" fill="#f8f664"/>
<use href="#v138" fill="#800010"/>
<use href="#v139" fill="#cc5000"/>
<use href="#v140" fill="#cc5000"/>
<use href="#v141" fill="#f8c850"/>
<use href="#v142" fill="#f8c850"/>
<use href="#v143" fill="#f8f664"/>
<use href="#v144" fill="#f8f664"/>
<use href="#v145" fill="#f8a020"/>
<use href="#v146" fill="#cc5000"/>
<use href="#v147" fill="#f8f664"/>
<use href="#v148" fill="#f8c850"/>
<use href="#v149" fill="#f8f664"/>
<use href="#v150" fill="#cc5000"/>
<use href="#v151" fill="#cc5000"/>
<use href="#v152" fill="#f8c850"/>
<use href="#v153" fill="#f8c850"/>
<use href="#v154" fill="#f8f664"/>
<use href="#v155" fill="#f8c850"/>
<use href="#v156" fill="#f8c850"/>
<use href="#v157" fill="#f8f664"/>
<use href="#v158" fill="#f8f664"/>
<use href="#v159" fill="#800010"/>
<use href="#v160" fill="#f8f664"/>
<use href="#v161" fill="#f8c850"/>
<use href="#v162" fill="#f8f664"/>
<use href="#v163" fill="#f8a020"/>
<use href="#v164" fill="#f8f664"/>
<use href="#v165" fill="#f8a020"/>
<use href="#v166" fill="#f8f664"/>
<use href="#v167" fill="#f8c850"/>
<use href="#v168" fill="#f8f664"/>
<use href="#v169" fill="#f8a020"/>
<use href="#v170" fill="#cc5000"/>
<use href="#v171" fill="#cc5000"/>
<use href="#v172" fill="#f8f664"/>
<use href="#v173" fill="#f8f664"/>
<use href="#v174" fill="#800010"/>
<use href="#v175" fill="#f8f664"/>
<use href="#v176" fill="#f8f664"/>
<use href="#v177" fill="#f8c850"/>
<use href="#v178" fill="#f8f664"/>
<use href="#v179" fill="#f8a020"/>
<use href="#v180" fill="#f8f664"/>
<use href="#v181" fill="#f8f664"/>
<use href="#v182" fill="#cc5000"/>
<use href="#v183" fill="#cc5000"/>
<use href="#v184" fill="#f8f664"/>
<use href="#v185" fill="#f8f664"/>
<use href="#v186" fill="#cc5000"/>
<use href="#v187" fill="#800010"/>
<use href="#v188" fill="#f8f664"/>
<use href="#v189" fill="#f8f664"/>
<use href="#vb" stroke="rgba(150,140,40,0.28)"/>
<use href="#riv"/><use href="#isl" fill="#e8e070"/><use href="#spk"/>
</g>
<text x="3" y="19.8" class="yr">2000</text>
<text x="3.2" y="114.5" class="yr" style="font-size:8.8px">2020</text>
<text x="33.6" y="20.6" class="pl">(a)</text>
<text x="132.6" y="20.6" class="pl">(b)</text>
<text x="232.6" y="20.6" class="pl">(c)</text>
<text x="336.8" y="20.6" class="pl">(d)</text>
<text x="446.6" y="20.6" class="pl">(e)</text>
<text x="49.2" y="204.3" class="lt"><tspan font-weight="bold">Supply</tspan> (kg×10<tspan baseline-shift="super" font-size="3.5">6</tspan>)</text>
<rect x="49.2" y="209.8" width="7" height="3.3" fill="#fde8d0"/>
<text x="56.9" y="213.7" class="lv">0.00&#8201;–&#8201;1.33</text>
<rect x="49.2" y="218.3" width="7" height="3.3" fill="#fcb89c"/>
<text x="56.9" y="222.2" class="lv">1.33&#8201;–&#8201;3.06</text>
<rect x="49.2" y="226.8" width="7" height="3.3" fill="#fb8766"/>
<text x="56.9" y="230.7" class="lv">3.06&#8201;–&#8201;5.29</text>
<rect x="49.2" y="235.3" width="7" height="3.3" fill="#f0402a"/>
<text x="56.9" y="239.2" class="lv">5.29&#8201;–&#8201;8.90</text>
<rect x="49.2" y="243.9" width="7" height="3.3" fill="#e00010"/>
<text x="56.9" y="247.8" class="lv">8.90&#8201;–&#8201;17.21</text><text x="144.7" y="204.8" class="lt"><tspan font-weight="bold">Supply</tspan> (kg×10<tspan baseline-shift="super" font-size="3.5">6</tspan>)</text>
<rect x="144.7" y="210.3" width="7" height="3.3" fill="#ffff88"/>
<text x="152.9" y="214.2" class="lv">0.30&#8201;–&#8201;79.16</text>
<rect x="144.7" y="218.8" width="7" height="3.3" fill="#30f030"/>
<text x="152.9" y="222.7" class="lv">79.17&#8201;–&#8201;180.49</text>
<rect x="144.7" y="227.3" width="7" height="3.3" fill="#20b060"/>
<text x="152.9" y="231.2" class="lv">180.50&#8201;–&#8201;300.67</text>
<rect x="144.7" y="235.8" width="7" height="3.3" fill="#1a70b0"/>
<text x="152.9" y="239.7" class="lv">300.68&#8201;–&#8201;476.28</text>
<rect x="144.7" y="244.4" width="7" height="3.3" fill="#101080"/>
<text x="152.9" y="248.3" class="lv">476.29&#8201;–&#8201;906.18</text><text x="250.2" y="205.1" class="lt"><tspan font-weight="bold">Supply</tspan> (kg×10<tspan baseline-shift="super" font-size="3.5">6</tspan>)</text>
<rect x="250.2" y="210.6" width="7.5" height="3.3" fill="#cdecd9"/>
<text x="259.0" y="214.5" class="lv">0&#8201;–&#8201;4.73</text>
<rect x="250.2" y="219.1" width="7.5" height="3.3" fill="#92d2b2"/>
<text x="259.0" y="223.0" class="lv">4.73&#8201;–&#8201;9.71</text>
<rect x="250.2" y="227.6" width="7.5" height="3.3" fill="#4eae7c"/>
<text x="259.0" y="231.5" class="lv">9.71&#8201;–&#8201;14.81</text>
<rect x="250.2" y="236.1" width="7.5" height="3.3" fill="#148a4e"/>
<text x="259.0" y="240.0" class="lv">14.81&#8201;–&#8201;26.03</text>
<rect x="250.2" y="244.7" width="7.5" height="3.3" fill="#005c2c"/>
<text x="259.0" y="248.6" class="lv">26.03&#8201;–&#8201;41.80</text><text x="349.5" y="204.2" class="lt"><tspan font-weight="bold">Supply</tspan> (m<tspan baseline-shift="super" font-size="3.5">3</tspan>×10<tspan baseline-shift="super" font-size="3.5">6</tspan>)</text>
<rect x="349.5" y="209.7" width="7.5" height="3.3" fill="#a0e8f0"/>
<text x="358.1" y="213.6" class="lv">1.52&#8201;–&#8201;37.73</text>
<rect x="349.5" y="218.2" width="7.5" height="3.3" fill="#50b8f0"/>
<text x="358.1" y="222.1" class="lv">37.73&#8201;–&#8201;82.92</text>
<rect x="349.5" y="226.7" width="7.5" height="3.3" fill="#2090e8"/>
<text x="358.1" y="230.6" class="lv">82.92&#8201;–&#8201;165.95</text>
<rect x="349.5" y="235.2" width="7.5" height="3.3" fill="#1040d0"/>
<text x="358.1" y="239.1" class="lv">165.95&#8201;–&#8201;310.62</text>
<rect x="349.5" y="243.8" width="7.5" height="3.3" fill="#000090"/>
<text x="358.1" y="247.7" class="lv">310.62&#8201;–&#8201;479.42</text><text x="460.7" y="204.0" class="lt"><tspan font-weight="bold">Supply</tspan>(t×10<tspan baseline-shift="super" font-size="3.5">4</tspan>)</text>
<rect x="460.7" y="209.5" width="7" height="3.3" fill="#f8f664"/>
<text x="468.7" y="213.4" class="lv">0&#8201;–&#8201;0.52</text>
<rect x="460.7" y="218.0" width="7" height="3.3" fill="#f8c840"/>
<text x="468.7" y="221.9" class="lv">0.53&#8201;–&#8201;1.47</text>
<rect x="460.7" y="226.5" width="7" height="3.3" fill="#f89a10"/>
<text x="468.7" y="230.4" class="lv">1.48&#8201;–&#8201;2.83</text>
<rect x="460.7" y="235.0" width="7" height="3.3" fill="#d05010"/>
<text x="468.7" y="238.9" class="lv">2.84&#8201;–&#8201;4.96</text>
<rect x="460.7" y="243.6" width="7" height="3.3" fill="#800010"/>
<text x="468.7" y="247.5" class="lv">4.97&#8201;–&#8201;9.83</text>
<path d="M528.5,7.8 L529.4,16.4 L537.8,17.4 L529.4,18.3 L528.3,26.2 L527.5,18.3 L518.9,17.3 L527.5,16.4 Z" fill="#1a1a1a"/>
<path d="M528.5,7.8 L527.5,16.4 L528.4,17.3 Z M537.8,17.4 L529.4,16.4 L528.4,17.3 Z M528.3,26.2 L529.4,18.3 L528.4,17.3 Z M518.9,17.3 L527.5,18.3 L528.4,17.3 Z" fill="#777"/>
<text x="528.6" y="6.8" class="sb" text-anchor="middle" style="font-size:4px">N</text>
<rect x="513" y="219.8" width="27.8" height="2" fill="#000"/>
<rect x="520.4" y="220.3" width="6.2" height="1" fill="#fff"/>
<text x="513" y="218.4" class="sb" text-anchor="middle">0</text>
<text x="520" y="218.4" class="sb" text-anchor="middle">50</text>
<text x="527.5" y="218.4" class="sb" text-anchor="middle">100</text>
<text x="541.2" y="218.4" class="sb" text-anchor="middle">200</text>
<text x="541.6" y="222.2" class="sb">km</text>
</svg>
</body></html>
